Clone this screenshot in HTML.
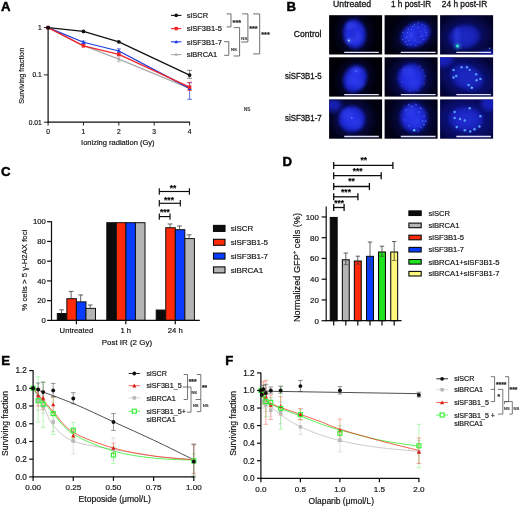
<!DOCTYPE html>
<html lang="en"><head><meta charset="utf-8"><title>Figure</title>
<style>html,body{margin:0;padding:0;background:#fff;}body{width:520px;height:507px;overflow:hidden;}svg{display:block;}text{font-family:"Liberation Sans", Arial, sans-serif;}</style>
</head><body>
<svg width="520" height="507" viewBox="0 0 520 507">
<defs>
<radialGradient id="cellg" cx="50%" cy="50%" r="50%"><stop offset="0" stop-color="#2834ea"/><stop offset="0.55" stop-color="#222ee0"/><stop offset="0.8" stop-color="#1a24c4"/><stop offset="1" stop-color="#0c1288"/></radialGradient>
<filter id="blur05" x="-100%" y="-100%" width="300%" height="300%"><feGaussianBlur stdDeviation="0.45"/></filter>
<filter id="blur1" x="-30%" y="-30%" width="160%" height="160%"><feGaussianBlur stdDeviation="1.5"/></filter>
<filter id="blur2" x="-50%" y="-50%" width="200%" height="200%"><feGaussianBlur stdDeviation="2.5"/></filter>
<filter id="blur5" x="-50%" y="-50%" width="200%" height="200%"><feGaussianBlur stdDeviation="5"/></filter>
</defs>
<rect width="520" height="507" fill="#fff"/>
<text x="1.00" y="10.90" font-size="13.2" text-anchor="start" font-weight="bold" fill="#000" stroke="#000" stroke-width="0.45">A</text>
<line x1="189.58" y1="82.82" x2="189.58" y2="99.29" stroke="#1b3be0" stroke-width="0.7"/>
<line x1="187.18" y1="82.82" x2="191.98" y2="82.82" stroke="#1b3be0" stroke-width="0.7"/>
<line x1="187.18" y1="99.29" x2="191.98" y2="99.29" stroke="#1b3be0" stroke-width="0.7"/>
<line x1="118.84" y1="48.87" x2="118.84" y2="53.03" stroke="#1b3be0" stroke-width="0.7"/>
<line x1="116.84" y1="48.87" x2="120.84" y2="48.87" stroke="#1b3be0" stroke-width="0.7"/>
<line x1="116.84" y1="53.03" x2="120.84" y2="53.03" stroke="#1b3be0" stroke-width="0.7"/>
<line x1="83.47" y1="41.03" x2="83.47" y2="43.55" stroke="#1b3be0" stroke-width="0.7"/>
<line x1="81.47" y1="41.03" x2="85.47" y2="41.03" stroke="#1b3be0" stroke-width="0.7"/>
<line x1="81.47" y1="43.55" x2="85.47" y2="43.55" stroke="#1b3be0" stroke-width="0.7"/>
<line x1="189.58" y1="82.23" x2="189.58" y2="90.41" stroke="#f0262a" stroke-width="0.7"/>
<line x1="187.18" y1="82.23" x2="191.98" y2="82.23" stroke="#f0262a" stroke-width="0.7"/>
<line x1="187.18" y1="90.41" x2="191.98" y2="90.41" stroke="#f0262a" stroke-width="0.7"/>
<line x1="118.84" y1="56.92" x2="118.84" y2="61.71" stroke="#aaa" stroke-width="0.7"/>
<line x1="116.84" y1="56.92" x2="120.84" y2="56.92" stroke="#aaa" stroke-width="0.7"/>
<line x1="116.84" y1="61.71" x2="120.84" y2="61.71" stroke="#aaa" stroke-width="0.7"/>
<line x1="189.58" y1="70.32" x2="189.58" y2="78.24" stroke="#555" stroke-width="0.7"/>
<line x1="187.18" y1="70.32" x2="191.98" y2="70.32" stroke="#555" stroke-width="0.7"/>
<line x1="187.18" y1="78.24" x2="191.98" y2="78.24" stroke="#555" stroke-width="0.7"/>
<polyline points="48.10,27.60 83.47,45.67 118.84,59.18 189.58,88.33" stroke="#aaa" stroke-width="1.25" fill="none" stroke-linejoin="round"/>
<rect x="46.90" y="26.40" width="2.40" height="2.40" fill="#aaa" stroke="none" stroke-width="0"/>
<rect x="82.27" y="44.47" width="2.40" height="2.40" fill="#aaa" stroke="none" stroke-width="0"/>
<rect x="117.64" y="57.98" width="2.40" height="2.40" fill="#aaa" stroke="none" stroke-width="0"/>
<rect x="188.38" y="87.13" width="2.40" height="2.40" fill="#aaa" stroke="none" stroke-width="0"/>
<polyline points="48.10,27.60 83.47,42.25 118.84,51.01 189.58,88.33" stroke="#1b3be0" stroke-width="1.25" fill="none" stroke-linejoin="round"/>
<polygon points="48.10,25.60 46.10,29.20 50.10,29.20" fill="#1b3be0"/>
<polygon points="83.47,40.25 81.47,43.85 85.47,43.85" fill="#1b3be0"/>
<polygon points="118.84,49.01 116.84,52.61 120.84,52.61" fill="#1b3be0"/>
<polygon points="189.58,86.33 187.58,89.93 191.58,89.93" fill="#1b3be0"/>
<polyline points="48.10,27.60 83.47,45.82 118.84,54.42 189.58,87.18" stroke="#f0262a" stroke-width="1.25" fill="none" stroke-linejoin="round"/>
<rect x="46.30" y="25.80" width="3.60" height="3.60" fill="#f0262a" stroke="none" stroke-width="0"/>
<rect x="81.67" y="44.02" width="3.60" height="3.60" fill="#f0262a" stroke="none" stroke-width="0"/>
<rect x="117.04" y="52.62" width="3.60" height="3.60" fill="#f0262a" stroke="none" stroke-width="0"/>
<rect x="187.78" y="85.38" width="3.60" height="3.60" fill="#f0262a" stroke="none" stroke-width="0"/>
<polyline points="48.10,27.60 83.47,31.43 118.84,41.84 189.58,75.11" stroke="#111" stroke-width="1.25" fill="none" stroke-linejoin="round"/>
<circle cx="48.10" cy="27.60" r="1.9" fill="#111" stroke="none" stroke-width="0"/>
<circle cx="83.47" cy="31.43" r="1.9" fill="#111" stroke="none" stroke-width="0"/>
<circle cx="118.84" cy="41.84" r="1.9" fill="#111" stroke="none" stroke-width="0"/>
<circle cx="189.58" cy="75.11" r="1.9" fill="#111" stroke="none" stroke-width="0"/>
<line x1="48.10" y1="27.10" x2="48.10" y2="122.70" stroke="#0c0c0c" stroke-width="1.2"/>
<line x1="47.60" y1="122.20" x2="190.08" y2="122.20" stroke="#0c0c0c" stroke-width="1.2"/>
<line x1="43.90" y1="27.60" x2="48.10" y2="27.60" stroke="#0c0c0c" stroke-width="0.9"/>
<text x="41.70" y="29.95" font-size="6.7" text-anchor="end" font-weight="normal" fill="#111" stroke="#111" stroke-width="0.18">1</text>
<line x1="43.90" y1="74.90" x2="48.10" y2="74.90" stroke="#0c0c0c" stroke-width="0.9"/>
<text x="41.70" y="77.25" font-size="6.7" text-anchor="end" font-weight="normal" fill="#111" stroke="#111" stroke-width="0.18">0.1</text>
<line x1="43.90" y1="122.20" x2="48.10" y2="122.20" stroke="#0c0c0c" stroke-width="0.9"/>
<text x="41.70" y="124.55" font-size="6.7" text-anchor="end" font-weight="normal" fill="#111" stroke="#111" stroke-width="0.18">0.01</text>
<line x1="48.10" y1="122.20" x2="48.10" y2="125.60" stroke="#0c0c0c" stroke-width="0.9"/>
<text x="48.10" y="133.50" font-size="6.7" text-anchor="middle" font-weight="normal" fill="#111" stroke="#111" stroke-width="0.18">0</text>
<line x1="83.47" y1="122.20" x2="83.47" y2="125.60" stroke="#0c0c0c" stroke-width="0.9"/>
<text x="83.47" y="133.50" font-size="6.7" text-anchor="middle" font-weight="normal" fill="#111" stroke="#111" stroke-width="0.18">1</text>
<line x1="118.84" y1="122.20" x2="118.84" y2="125.60" stroke="#0c0c0c" stroke-width="0.9"/>
<text x="118.84" y="133.50" font-size="6.7" text-anchor="middle" font-weight="normal" fill="#111" stroke="#111" stroke-width="0.18">2</text>
<line x1="154.21" y1="122.20" x2="154.21" y2="125.60" stroke="#0c0c0c" stroke-width="0.9"/>
<text x="154.21" y="133.50" font-size="6.7" text-anchor="middle" font-weight="normal" fill="#111" stroke="#111" stroke-width="0.18">3</text>
<line x1="189.58" y1="122.20" x2="189.58" y2="125.60" stroke="#0c0c0c" stroke-width="0.9"/>
<text x="189.58" y="133.50" font-size="6.7" text-anchor="middle" font-weight="normal" fill="#111" stroke="#111" stroke-width="0.18">4</text>
<text x="117.80" y="145.10" font-size="7.5" text-anchor="middle" font-weight="normal" fill="#111" stroke="#111" stroke-width="0.18">Ionizing radiation (Gy)</text>
<text x="24.20" y="75.80" font-size="7.3" text-anchor="middle" font-weight="normal" fill="#111" stroke="#111" stroke-width="0.18" transform="rotate(-90 24.2 75.8)">Surviving fraction</text>
<line x1="171.00" y1="15.40" x2="181.40" y2="15.40" stroke="#111" stroke-width="1.1"/>
<circle cx="176.20" cy="15.40" r="1.8" fill="#111" stroke="none" stroke-width="0"/>
<text x="186.80" y="18.10" font-size="7.5" text-anchor="start" font-weight="normal" fill="#111" stroke="#111" stroke-width="0.18">siSCR</text>
<line x1="171.00" y1="28.60" x2="181.40" y2="28.60" stroke="#f0262a" stroke-width="1.1"/>
<rect x="174.50" y="26.90" width="3.40" height="3.40" fill="#f0262a" stroke="none" stroke-width="0"/>
<text x="186.80" y="31.30" font-size="7.5" text-anchor="start" font-weight="normal" fill="#111" stroke="#111" stroke-width="0.18">siSF3B1-5</text>
<line x1="171.00" y1="41.80" x2="181.40" y2="41.80" stroke="#1b3be0" stroke-width="1.1"/>
<polygon points="176.20,39.90 174.30,43.32 178.10,43.32" fill="#1b3be0"/>
<text x="186.80" y="44.50" font-size="7.5" text-anchor="start" font-weight="normal" fill="#111" stroke="#111" stroke-width="0.18">siSF3B1-7</text>
<line x1="171.00" y1="54.60" x2="181.40" y2="54.60" stroke="#aaa" stroke-width="1.1"/>
<rect x="175.10" y="53.50" width="2.20" height="2.20" fill="#aaa" stroke="none" stroke-width="0"/>
<text x="186.80" y="57.30" font-size="7.5" text-anchor="start" font-weight="normal" fill="#111" stroke="#111" stroke-width="0.18">siBRCA1</text>
<polyline points="226.60,13.90 231.00,13.90 231.00,26.90 226.60,26.90" stroke="#4a4a4a" stroke-width="0.8" fill="none"/>
<text x="232.60" y="25.00" font-size="7.2" text-anchor="start" font-weight="bold" fill="#222" stroke="#222" stroke-width="0.18">***</text>
<polyline points="224.20,41.70 228.80,41.70 228.80,55.30 224.20,55.30" stroke="#4a4a4a" stroke-width="0.8" fill="none"/>
<text x="231.00" y="50.90" font-size="4.3" text-anchor="start" font-weight="normal" fill="#222" stroke="#222" stroke-width="0.18">NS</text>
<polyline points="233.70,27.60 239.60,27.60 239.60,56.00 233.70,56.00" stroke="#4a4a4a" stroke-width="0.8" fill="none"/>
<text x="241.30" y="40.30" font-size="4.3" text-anchor="start" font-weight="normal" fill="#222" stroke="#222" stroke-width="0.18">NS</text>
<polyline points="242.20,13.90 247.90,13.90 247.90,42.00 241.20,42.00" stroke="#4a4a4a" stroke-width="0.8" fill="none"/>
<text x="249.20" y="30.80" font-size="7.2" text-anchor="start" font-weight="bold" fill="#222" stroke="#222" stroke-width="0.18">***</text>
<polyline points="253.10,13.90 259.70,13.90 259.70,53.90 253.10,53.90" stroke="#4a4a4a" stroke-width="0.8" fill="none"/>
<text x="261.30" y="37.20" font-size="7.2" text-anchor="start" font-weight="bold" fill="#222" stroke="#222" stroke-width="0.18">***</text>
<text x="244.00" y="110.60" font-size="4.6" text-anchor="start" font-weight="normal" fill="#222" stroke="#222" stroke-width="0.18">NS</text>
<text x="286.40" y="11.20" font-size="13.2" text-anchor="start" font-weight="bold" fill="#000" stroke="#000" stroke-width="0.45">B</text>
<text x="352.10" y="7.30" font-size="8.5" text-anchor="middle" font-weight="normal" fill="#111" stroke="#111" stroke-width="0.28" textLength="38.0" lengthAdjust="spacingAndGlyphs">Untreated</text>
<text x="411.10" y="7.30" font-size="8.5" text-anchor="middle" font-weight="normal" fill="#111" stroke="#111" stroke-width="0.28" textLength="40.2" lengthAdjust="spacingAndGlyphs">1 h post-IR</text>
<text x="464.50" y="7.30" font-size="8.5" text-anchor="middle" font-weight="normal" fill="#111" stroke="#111" stroke-width="0.28" textLength="45.4" lengthAdjust="spacingAndGlyphs">24 h post-IR</text>
<text x="321.40" y="37.20" font-size="8.4" text-anchor="end" font-weight="normal" fill="#111" stroke="#111" stroke-width="0.28" textLength="27.6" lengthAdjust="spacingAndGlyphs">Control</text>
<text x="321.60" y="79.00" font-size="8.3" text-anchor="end" font-weight="normal" fill="#111" stroke="#111" stroke-width="0.28" textLength="36.6" lengthAdjust="spacingAndGlyphs">siSF3B1-5</text>
<text x="321.60" y="120.90" font-size="8.3" text-anchor="end" font-weight="normal" fill="#111" stroke="#111" stroke-width="0.28" textLength="36.6" lengthAdjust="spacingAndGlyphs">siSF3B1-7</text>
<clipPath id="clip00"><rect x="329.1" y="15.2" width="53.0" height="39.3"/></clipPath>
<rect x="329.10" y="15.20" width="53.00" height="39.30" fill="#010106" stroke="none" stroke-width="0"/>
<g clip-path="url(#clip00)">
<ellipse cx="354.4" cy="34.0" rx="17.1" ry="22.0" fill="#0c1290" opacity="0.3" filter="url(#blur5)" transform="rotate(-8 354.4 34.0)"/>
<ellipse cx="354.4" cy="34.0" rx="11.8" ry="15.2" fill="url(#cellg)" opacity="1" filter="url(#blur1)" transform="rotate(-8 354.4 34.0)"/>
<ellipse cx="351" cy="26" rx="5" ry="4" fill="#3a48f4" opacity="0.55" filter="url(#blur1)"/>
<ellipse cx="356" cy="38" rx="5" ry="6" fill="#3442f0" opacity="0.5" filter="url(#blur1)"/>
<ellipse cx="353" cy="33" rx="2" ry="7" fill="#1418a8" opacity="0.35" filter="url(#blur1)"/>
<ellipse cx="349" cy="40.5" rx="2.6" ry="2.6" fill="#4a70ff" opacity="0.7" filter="url(#blur1)"/>
<circle cx="348.8" cy="40.5" r="0.9" fill="#b4dcff" opacity="0.95" filter="url(#blur05)"/>
</g>
<line x1="344.20" y1="52.30" x2="378.80" y2="52.30" stroke="#e2e2ff" stroke-width="1.3"/>
<clipPath id="clip01"><rect x="384.6" y="15.2" width="53.0" height="39.3"/></clipPath>
<rect x="384.60" y="15.20" width="53.00" height="39.30" fill="#02020c" stroke="none" stroke-width="0"/>
<g clip-path="url(#clip01)">
<ellipse cx="415.6" cy="34.6" rx="23.5" ry="17.7" fill="#0c1290" opacity="0.32" filter="url(#blur5)" transform="rotate(-28 415.6 34.6)"/>
<ellipse cx="415.6" cy="34.6" rx="16.2" ry="12.2" fill="url(#cellg)" opacity="1" filter="url(#blur1)" transform="rotate(-28 415.6 34.6)"/>
<ellipse cx="419" cy="35" rx="3" ry="8" fill="#1418a8" opacity="0.3" filter="url(#blur1)"/>
<ellipse cx="409" cy="36" rx="5" ry="5" fill="#3442f0" opacity="0.35" filter="url(#blur1)"/>
<circle cx="415.1" cy="40.0" r="0.55" fill="#5a8cff" opacity="0.75" filter="url(#blur05)"/>
<circle cx="411.3" cy="33.2" r="0.55" fill="#5a9cf8" opacity="0.75" filter="url(#blur05)"/>
<circle cx="406.7" cy="37.5" r="0.55" fill="#5a8cff" opacity="0.75" filter="url(#blur05)"/>
<circle cx="426.0" cy="32.4" r="0.55" fill="#5a9cf8" opacity="0.75" filter="url(#blur05)"/>
<circle cx="421.0" cy="33.8" r="0.55" fill="#4a7cf8" opacity="0.75" filter="url(#blur05)"/>
<circle cx="407.1" cy="44.5" r="0.55" fill="#5a9cf8" opacity="0.75" filter="url(#blur05)"/>
<circle cx="403.0" cy="32.4" r="0.55" fill="#5a8cff" opacity="0.75" filter="url(#blur05)"/>
<circle cx="418.0" cy="27.6" r="0.55" fill="#6aa8f0" opacity="0.75" filter="url(#blur05)"/>
<circle cx="415.8" cy="45.3" r="0.55" fill="#5a8cff" opacity="0.75" filter="url(#blur05)"/>
<circle cx="423.7" cy="39.3" r="0.55" fill="#5a8cff" opacity="0.75" filter="url(#blur05)"/>
<circle cx="407.6" cy="32.6" r="0.55" fill="#5a8cff" opacity="0.75" filter="url(#blur05)"/>
<circle cx="410.7" cy="35.9" r="0.55" fill="#5a9cf8" opacity="0.75" filter="url(#blur05)"/>
<circle cx="409.1" cy="40.2" r="0.55" fill="#5a8cff" opacity="0.75" filter="url(#blur05)"/>
<circle cx="414.4" cy="24.9" r="0.55" fill="#6aa8f0" opacity="0.75" filter="url(#blur05)"/>
<circle cx="420.1" cy="42.1" r="0.55" fill="#5a8cff" opacity="0.75" filter="url(#blur05)"/>
<circle cx="402.6" cy="39.6" r="0.55" fill="#5a8cff" opacity="0.75" filter="url(#blur05)"/>
<circle cx="411.6" cy="29.5" r="0.55" fill="#5a9cf8" opacity="0.75" filter="url(#blur05)"/>
<circle cx="420.7" cy="31.2" r="0.55" fill="#4a7cf8" opacity="0.75" filter="url(#blur05)"/>
<circle cx="412.5" cy="26.5" r="0.55" fill="#5a9cf8" opacity="0.75" filter="url(#blur05)"/>
<circle cx="408.2" cy="29.1" r="0.55" fill="#6aa8f0" opacity="0.75" filter="url(#blur05)"/>
<circle cx="418.1" cy="22.8" r="0.55" fill="#6aa8f0" opacity="0.75" filter="url(#blur05)"/>
<circle cx="405.5" cy="41.7" r="0.55" fill="#6aa8f0" opacity="0.75" filter="url(#blur05)"/>
<circle cx="410.2" cy="44.4" r="0.55" fill="#4a7cf8" opacity="0.75" filter="url(#blur05)"/>
<circle cx="420.2" cy="36.7" r="0.55" fill="#5a8cff" opacity="0.75" filter="url(#blur05)"/>
<circle cx="422.6" cy="35.9" r="0.55" fill="#5a8cff" opacity="0.75" filter="url(#blur05)"/>
<circle cx="417.5" cy="42.0" r="0.55" fill="#4a7cf8" opacity="0.75" filter="url(#blur05)"/>
<circle cx="424.6" cy="30.1" r="0.55" fill="#4a7cf8" opacity="0.75" filter="url(#blur05)"/>
<circle cx="424.9" cy="26.5" r="0.55" fill="#4a7cf8" opacity="0.75" filter="url(#blur05)"/>
<circle cx="422.3" cy="24.3" r="0.55" fill="#4a7cf8" opacity="0.75" filter="url(#blur05)"/>
<circle cx="426.7" cy="35.0" r="0.55" fill="#6aa8f0" opacity="0.75" filter="url(#blur05)"/>
</g>
<line x1="400.80" y1="52.30" x2="435.60" y2="52.30" stroke="#e2e2ff" stroke-width="1.3"/>
<clipPath id="clip02"><rect x="440.1" y="15.2" width="53.0" height="39.3"/></clipPath>
<rect x="440.10" y="15.20" width="53.00" height="39.30" fill="#030324" stroke="none" stroke-width="0"/>
<g clip-path="url(#clip02)">
<ellipse cx="464.5" cy="36.6" rx="26.6" ry="19.8" fill="#0c1290" opacity="0.5" filter="url(#blur5)" transform="rotate(-8 464.5 36.6)"/>
<ellipse cx="492" cy="57" rx="14" ry="7" fill="#1a28d8" opacity="0.8" filter="url(#blur2)"/>
<ellipse cx="464.5" cy="36.6" rx="16.6" ry="12.4" fill="url(#cellg)" opacity="0.72" filter="url(#blur1)" transform="rotate(-8 464.5 36.6)"/>
<ellipse cx="457" cy="35" rx="3" ry="8" fill="#3442f0" opacity="0.5" filter="url(#blur1)"/>
<ellipse cx="457.5" cy="46" rx="3.2" ry="3.2" fill="#30a0e0" opacity="0.6" filter="url(#blur1)"/>
<circle cx="457.5" cy="46.0" r="1.5" fill="#35e8c8" opacity="0.95" filter="url(#blur05)"/>
<circle cx="489.6" cy="48.4" r="0.8" fill="#6fa0ff" opacity="0.75" filter="url(#blur05)"/>
</g>
<line x1="456.30" y1="52.30" x2="490.90" y2="52.30" stroke="#e2e2ff" stroke-width="1.3"/>
<clipPath id="clip10"><rect x="329.1" y="57.3" width="53.0" height="39.3"/></clipPath>
<rect x="329.10" y="57.30" width="53.00" height="39.30" fill="#010106" stroke="none" stroke-width="0"/>
<g clip-path="url(#clip10)">
<ellipse cx="355.0" cy="78.8" rx="17.1" ry="20.9" fill="#0c1290" opacity="0.3" filter="url(#blur5)" transform="rotate(25 355.0 78.8)"/>
<ellipse cx="355.0" cy="78.8" rx="11.8" ry="14.4" fill="url(#cellg)" opacity="1" filter="url(#blur1)" transform="rotate(25 355.0 78.8)"/>
<ellipse cx="356" cy="71" rx="5" ry="3" fill="#3a4af4" opacity="0.6" filter="url(#blur1)"/>
<ellipse cx="352" cy="80" rx="5" ry="5" fill="#3442f0" opacity="0.4" filter="url(#blur1)"/>
<ellipse cx="359" cy="84" rx="5" ry="4" fill="#3442f0" opacity="0.4" filter="url(#blur1)"/>
<circle cx="356" cy="71" r="1.0" fill="#4a6cff" opacity="0.95" filter="url(#blur05)"/>
</g>
<line x1="344.20" y1="94.70" x2="378.80" y2="94.70" stroke="#e2e2ff" stroke-width="1.3"/>
<clipPath id="clip11"><rect x="384.6" y="57.3" width="53.0" height="39.3"/></clipPath>
<rect x="384.60" y="57.30" width="53.00" height="39.30" fill="#020216" stroke="none" stroke-width="0"/>
<g clip-path="url(#clip11)">
<ellipse cx="411.5" cy="78.0" rx="21.6" ry="22.8" fill="#0c1290" opacity="0.42" filter="url(#blur5)" transform="rotate(0 411.5 78.0)"/>
<ellipse cx="411.5" cy="78.0" rx="14.4" ry="15.2" fill="url(#cellg)" opacity="1" filter="url(#blur1)" transform="rotate(0 411.5 78.0)"/>
<ellipse cx="408" cy="72" rx="6" ry="5" fill="#3442f0" opacity="0.45" filter="url(#blur1)"/>
<ellipse cx="414" cy="84" rx="6" ry="5" fill="#3040ec" opacity="0.4" filter="url(#blur1)"/>
<circle cx="423" cy="70" r="0.6" fill="#5a8cff" opacity="0.75" filter="url(#blur05)"/>
<circle cx="425" cy="76" r="0.6" fill="#5a8cff" opacity="0.75" filter="url(#blur05)"/>
<circle cx="424" cy="83" r="0.6" fill="#5a8cff" opacity="0.75" filter="url(#blur05)"/>
<circle cx="420" cy="66" r="0.6" fill="#5a8cff" opacity="0.75" filter="url(#blur05)"/>
<circle cx="404" cy="70" r="0.6" fill="#5a8cff" opacity="0.75" filter="url(#blur05)"/>
<circle cx="402" cy="82" r="0.6" fill="#5a8cff" opacity="0.75" filter="url(#blur05)"/>
<circle cx="410" cy="90" r="0.6" fill="#5a8cff" opacity="0.75" filter="url(#blur05)"/>
<circle cx="418" cy="90" r="0.6" fill="#5a8cff" opacity="0.75" filter="url(#blur05)"/>
</g>
<line x1="400.80" y1="94.70" x2="435.60" y2="94.70" stroke="#e2e2ff" stroke-width="1.3"/>
<clipPath id="clip12"><rect x="440.1" y="57.3" width="53.0" height="39.3"/></clipPath>
<rect x="440.10" y="57.30" width="53.00" height="39.30" fill="#040430" stroke="none" stroke-width="0"/>
<g clip-path="url(#clip12)">
<ellipse cx="467.0" cy="77.5" rx="29.1" ry="20.8" fill="#0c1290" opacity="0.6" filter="url(#blur5)" transform="rotate(22 467.0 77.5)"/>
<ellipse cx="441" cy="59" rx="12" ry="8" fill="#1a28d8" opacity="0.8" filter="url(#blur2)"/>
<ellipse cx="467.0" cy="77.5" rx="18.2" ry="13.0" fill="url(#cellg)" opacity="0.7" filter="url(#blur1)" transform="rotate(22 467.0 77.5)"/>
<circle cx="453.5" cy="70" r="1.25" fill="#5aa4ff" opacity="0.95" filter="url(#blur05)"/>
<circle cx="461.6" cy="67.3" r="1.25" fill="#5aa4ff" opacity="0.95" filter="url(#blur05)"/>
<circle cx="467" cy="67.3" r="1.25" fill="#5aa4ff" opacity="0.95" filter="url(#blur05)"/>
<circle cx="469.7" cy="70" r="1.1" fill="#5aa4ff" opacity="0.95" filter="url(#blur05)"/>
<circle cx="476.1" cy="74.3" r="1.25" fill="#5aa4ff" opacity="0.95" filter="url(#blur05)"/>
<circle cx="456.2" cy="75.9" r="1.25" fill="#5aa4ff" opacity="0.95" filter="url(#blur05)"/>
<circle cx="453.5" cy="77.5" r="1.25" fill="#5aa4ff" opacity="0.95" filter="url(#blur05)"/>
<circle cx="476.7" cy="80.2" r="1.25" fill="#5aa4ff" opacity="0.95" filter="url(#blur05)"/>
<circle cx="480.4" cy="79.1" r="1.25" fill="#5aa4ff" opacity="0.95" filter="url(#blur05)"/>
<circle cx="468.6" cy="85.1" r="1.25" fill="#5aa4ff" opacity="0.95" filter="url(#blur05)"/>
<circle cx="471.8" cy="87.8" r="1.3" fill="#6ab4ff" opacity="0.95" filter="url(#blur05)"/>
</g>
<line x1="456.30" y1="94.70" x2="490.90" y2="94.70" stroke="#e2e2ff" stroke-width="1.3"/>
<clipPath id="clip20"><rect x="329.1" y="99.4" width="53.0" height="39.3"/></clipPath>
<rect x="329.10" y="99.40" width="53.00" height="39.30" fill="#02020e" stroke="none" stroke-width="0"/>
<g clip-path="url(#clip20)">
<ellipse cx="351.8" cy="119.0" rx="20.7" ry="20.1" fill="#0c1290" opacity="0.42" filter="url(#blur5)" transform="rotate(0 351.8 119.0)"/>
<ellipse cx="333" cy="105" rx="9" ry="7" fill="#1a28d8" opacity="0.8" filter="url(#blur2)"/>
<ellipse cx="351.8" cy="119.0" rx="13.8" ry="13.4" fill="url(#cellg)" opacity="1" filter="url(#blur1)" transform="rotate(0 351.8 119.0)"/>
<ellipse cx="347" cy="114" rx="6" ry="6" fill="#3442f0" opacity="0.4" filter="url(#blur1)"/>
<ellipse cx="357" cy="124" rx="5" ry="5" fill="#3040ec" opacity="0.35" filter="url(#blur1)"/>
<circle cx="351.8" cy="118.1" r="0.9" fill="#6080ff" opacity="0.95" filter="url(#blur05)"/>
</g>
<line x1="344.20" y1="136.50" x2="378.80" y2="136.50" stroke="#e2e2ff" stroke-width="1.3"/>
<clipPath id="clip21"><rect x="384.6" y="99.4" width="53.0" height="39.3"/></clipPath>
<rect x="384.60" y="99.40" width="53.00" height="39.30" fill="#020214" stroke="none" stroke-width="0"/>
<g clip-path="url(#clip21)">
<ellipse cx="413.7" cy="117.7" rx="21.3" ry="22.8" fill="#0c1290" opacity="0.38" filter="url(#blur5)" transform="rotate(-15 413.7 117.7)"/>
<ellipse cx="413.7" cy="117.7" rx="14.2" ry="15.2" fill="url(#cellg)" opacity="1" filter="url(#blur1)" transform="rotate(-15 413.7 117.7)"/>
<ellipse cx="410" cy="112" rx="5" ry="5" fill="#3442f0" opacity="0.4" filter="url(#blur1)"/>
<ellipse cx="416" cy="122" rx="5" ry="6" fill="#3040ec" opacity="0.35" filter="url(#blur1)"/>
<circle cx="408.8" cy="105" r="0.8" fill="#5a8cff" opacity="0.75" filter="url(#blur05)"/>
<circle cx="412" cy="106.6" r="0.8" fill="#5a8cff" opacity="0.75" filter="url(#blur05)"/>
<circle cx="420.7" cy="108.2" r="0.8" fill="#5a8cff" opacity="0.75" filter="url(#blur05)"/>
<circle cx="422.8" cy="121.1" r="0.8" fill="#5a8cff" opacity="0.75" filter="url(#blur05)"/>
<circle cx="425.5" cy="121.1" r="0.8" fill="#5a8cff" opacity="0.75" filter="url(#blur05)"/>
<circle cx="423.9" cy="124.4" r="0.8" fill="#5a8cff" opacity="0.75" filter="url(#blur05)"/>
<circle cx="414.2" cy="130.3" r="1.2" fill="#58c8ff" opacity="0.95" filter="url(#blur05)"/>
<circle cx="406" cy="110" r="0.7" fill="#5a8cff" opacity="0.75" filter="url(#blur05)"/>
<circle cx="416" cy="104.5" r="0.7" fill="#5a8cff" opacity="0.75" filter="url(#blur05)"/>
<circle cx="419" cy="112" r="0.7" fill="#5a8cff" opacity="0.75" filter="url(#blur05)"/>
<circle cx="424" cy="116" r="0.7" fill="#5a8cff" opacity="0.75" filter="url(#blur05)"/>
<circle cx="421" cy="127" r="0.7" fill="#5a8cff" opacity="0.75" filter="url(#blur05)"/>
<circle cx="409" cy="126" r="0.7" fill="#5a8cff" opacity="0.75" filter="url(#blur05)"/>
<circle cx="405" cy="120" r="0.7" fill="#5a8cff" opacity="0.75" filter="url(#blur05)"/>
<circle cx="418" cy="131" r="0.7" fill="#5a8cff" opacity="0.75" filter="url(#blur05)"/>
</g>
<line x1="400.80" y1="136.50" x2="435.60" y2="136.50" stroke="#e2e2ff" stroke-width="1.3"/>
<clipPath id="clip22"><rect x="440.1" y="99.4" width="53.0" height="39.3"/></clipPath>
<rect x="440.10" y="99.40" width="53.00" height="39.30" fill="#05053c" stroke="none" stroke-width="0"/>
<g clip-path="url(#clip22)">
<ellipse cx="466.0" cy="119.3" rx="29.8" ry="21.4" fill="#0c1290" opacity="0.62" filter="url(#blur5)" transform="rotate(5 466.0 119.3)"/>
<ellipse cx="490" cy="103" rx="9" ry="8" fill="#1a28d8" opacity="0.8" filter="url(#blur2)"/>
<ellipse cx="466.0" cy="119.3" rx="18.6" ry="13.4" fill="url(#cellg)" opacity="0.78" filter="url(#blur1)" transform="rotate(5 466.0 119.3)"/>
<circle cx="469.7" cy="108.2" r="1.25" fill="#5aa4ff" opacity="0.95" filter="url(#blur05)"/>
<circle cx="454.6" cy="112" r="1.25" fill="#5aa4ff" opacity="0.95" filter="url(#blur05)"/>
<circle cx="454.6" cy="117.9" r="1.25" fill="#5aa4ff" opacity="0.95" filter="url(#blur05)"/>
<circle cx="460" cy="119" r="1.25" fill="#5aa4ff" opacity="0.95" filter="url(#blur05)"/>
<circle cx="464.8" cy="120.6" r="1.25" fill="#5aa4ff" opacity="0.95" filter="url(#blur05)"/>
<circle cx="480.4" cy="116.3" r="1.25" fill="#5aa4ff" opacity="0.95" filter="url(#blur05)"/>
<circle cx="479.4" cy="126.5" r="1.25" fill="#5aa4ff" opacity="0.95" filter="url(#blur05)"/>
<circle cx="474.5" cy="129.2" r="1.25" fill="#5aa4ff" opacity="0.95" filter="url(#blur05)"/>
<circle cx="470.2" cy="131.4" r="1.25" fill="#5aa4ff" opacity="0.95" filter="url(#blur05)"/>
<circle cx="464.8" cy="130.3" r="1.25" fill="#5aa4ff" opacity="0.95" filter="url(#blur05)"/>
<circle cx="456.8" cy="127.1" r="1.25" fill="#5aa4ff" opacity="0.95" filter="url(#blur05)"/>
</g>
<line x1="456.30" y1="136.50" x2="490.90" y2="136.50" stroke="#e2e2ff" stroke-width="1.3"/>
<text x="1.00" y="176.00" font-size="13.2" text-anchor="start" font-weight="bold" fill="#000" stroke="#000" stroke-width="0.45">C</text>
<line x1="61.57" y1="313.00" x2="61.57" y2="309.84" stroke="#3c3c3c" stroke-width="0.8"/>
<line x1="59.17" y1="309.84" x2="63.97" y2="309.84" stroke="#3c3c3c" stroke-width="0.8"/>
<rect x="57.30" y="313.50" width="9.55" height="6.90" fill="#0c0c0c" stroke="#111" stroke-width="1.0"/>
<line x1="71.12" y1="298.19" x2="71.12" y2="291.38" stroke="#3c3c3c" stroke-width="0.8"/>
<line x1="68.72" y1="291.38" x2="73.53" y2="291.38" stroke="#3c3c3c" stroke-width="0.8"/>
<rect x="66.85" y="298.69" width="9.55" height="21.71" fill="#ff2a0a" stroke="#111" stroke-width="1.0"/>
<line x1="80.68" y1="301.35" x2="80.68" y2="294.94" stroke="#3c3c3c" stroke-width="0.8"/>
<line x1="78.28" y1="294.94" x2="83.08" y2="294.94" stroke="#3c3c3c" stroke-width="0.8"/>
<rect x="76.40" y="301.85" width="9.55" height="18.55" fill="#0a3cff" stroke="#111" stroke-width="1.0"/>
<line x1="90.23" y1="307.87" x2="90.23" y2="305.00" stroke="#3c3c3c" stroke-width="0.8"/>
<line x1="87.83" y1="305.00" x2="92.63" y2="305.00" stroke="#3c3c3c" stroke-width="0.8"/>
<rect x="85.95" y="308.37" width="9.55" height="12.03" fill="#b4b4b4" stroke="#111" stroke-width="1.0"/>
<rect x="106.80" y="222.69" width="9.55" height="97.71" fill="#0c0c0c" stroke="#111" stroke-width="1.0"/>
<rect x="116.35" y="222.69" width="9.55" height="97.71" fill="#ff2a0a" stroke="#111" stroke-width="1.0"/>
<rect x="125.90" y="222.69" width="9.55" height="97.71" fill="#0a3cff" stroke="#111" stroke-width="1.0"/>
<rect x="135.45" y="222.69" width="9.55" height="97.71" fill="#b4b4b4" stroke="#111" stroke-width="1.0"/>
<rect x="156.20" y="310.04" width="9.55" height="10.36" fill="#0c0c0c" stroke="#111" stroke-width="1.0"/>
<line x1="170.03" y1="227.23" x2="170.03" y2="223.97" stroke="#3c3c3c" stroke-width="0.8"/>
<line x1="167.62" y1="223.97" x2="172.43" y2="223.97" stroke="#3c3c3c" stroke-width="0.8"/>
<rect x="165.75" y="227.73" width="9.55" height="92.67" fill="#ff2a0a" stroke="#111" stroke-width="1.0"/>
<line x1="179.57" y1="229.20" x2="179.57" y2="225.94" stroke="#3c3c3c" stroke-width="0.8"/>
<line x1="177.17" y1="225.94" x2="181.97" y2="225.94" stroke="#3c3c3c" stroke-width="0.8"/>
<rect x="175.30" y="229.70" width="9.55" height="90.70" fill="#0a3cff" stroke="#111" stroke-width="1.0"/>
<line x1="189.12" y1="238.08" x2="189.12" y2="234.83" stroke="#3c3c3c" stroke-width="0.8"/>
<line x1="186.72" y1="234.83" x2="191.53" y2="234.83" stroke="#3c3c3c" stroke-width="0.8"/>
<rect x="184.85" y="238.58" width="9.55" height="81.82" fill="#b4b4b4" stroke="#111" stroke-width="1.0"/>
<line x1="51.50" y1="221.25" x2="51.50" y2="320.85" stroke="#0c0c0c" stroke-width="1.2"/>
<line x1="51.05" y1="320.40" x2="199.80" y2="320.40" stroke="#0c0c0c" stroke-width="1.2"/>
<line x1="47.10" y1="320.40" x2="51.50" y2="320.40" stroke="#0c0c0c" stroke-width="1.2"/>
<text x="45.80" y="323.15" font-size="7.7" text-anchor="end" font-weight="normal" fill="#111" stroke="#111" stroke-width="0.18">0</text>
<line x1="47.10" y1="300.66" x2="51.50" y2="300.66" stroke="#0c0c0c" stroke-width="1.2"/>
<text x="45.80" y="303.41" font-size="7.7" text-anchor="end" font-weight="normal" fill="#111" stroke="#111" stroke-width="0.18">20</text>
<line x1="47.10" y1="280.92" x2="51.50" y2="280.92" stroke="#0c0c0c" stroke-width="1.2"/>
<text x="45.80" y="283.67" font-size="7.7" text-anchor="end" font-weight="normal" fill="#111" stroke="#111" stroke-width="0.18">40</text>
<line x1="47.10" y1="261.18" x2="51.50" y2="261.18" stroke="#0c0c0c" stroke-width="1.2"/>
<text x="45.80" y="263.93" font-size="7.7" text-anchor="end" font-weight="normal" fill="#111" stroke="#111" stroke-width="0.18">60</text>
<line x1="47.10" y1="241.44" x2="51.50" y2="241.44" stroke="#0c0c0c" stroke-width="1.2"/>
<text x="45.80" y="244.19" font-size="7.7" text-anchor="end" font-weight="normal" fill="#111" stroke="#111" stroke-width="0.18">80</text>
<line x1="47.10" y1="221.70" x2="51.50" y2="221.70" stroke="#0c0c0c" stroke-width="1.2"/>
<text x="45.80" y="224.45" font-size="7.7" text-anchor="end" font-weight="normal" fill="#111" stroke="#111" stroke-width="0.18">100</text>
<line x1="76.40" y1="320.40" x2="76.40" y2="324.30" stroke="#0c0c0c" stroke-width="1.2"/>
<text x="76.40" y="333.30" font-size="7.65" text-anchor="middle" font-weight="normal" fill="#111" stroke="#111" stroke-width="0.18">Untreated</text>
<line x1="125.80" y1="320.40" x2="125.80" y2="324.30" stroke="#0c0c0c" stroke-width="1.2"/>
<text x="125.80" y="333.30" font-size="7.65" text-anchor="middle" font-weight="normal" fill="#111" stroke="#111" stroke-width="0.18">1 h</text>
<line x1="175.30" y1="320.40" x2="175.30" y2="324.30" stroke="#0c0c0c" stroke-width="1.2"/>
<text x="175.30" y="333.30" font-size="7.65" text-anchor="middle" font-weight="normal" fill="#111" stroke="#111" stroke-width="0.18">24 h</text>
<text x="126.90" y="345.40" font-size="7.95" text-anchor="middle" font-weight="normal" fill="#111" stroke="#111" stroke-width="0.18">Post IR (2 Gy)</text>
<text x="26.80" y="270.20" font-size="7.77" text-anchor="middle" font-weight="normal" fill="#111" stroke="#111" stroke-width="0.18" transform="rotate(-90 26.8 270.2)">% cells &gt; 5 γ-H2AX foci</text>
<line x1="159.30" y1="191.50" x2="189.40" y2="191.50" stroke="#0c0c0c" stroke-width="1.15"/>
<line x1="159.30" y1="188.30" x2="159.30" y2="194.70" stroke="#0c0c0c" stroke-width="1.15"/>
<line x1="189.40" y1="188.30" x2="189.40" y2="194.70" stroke="#0c0c0c" stroke-width="1.15"/>
<text x="172.90" y="191.00" font-size="8.4" text-anchor="middle" font-weight="bold" fill="#000" stroke="#000" stroke-width="0.18">**</text>
<line x1="159.30" y1="203.30" x2="180.30" y2="203.30" stroke="#0c0c0c" stroke-width="1.15"/>
<line x1="159.30" y1="200.10" x2="159.30" y2="206.50" stroke="#0c0c0c" stroke-width="1.15"/>
<line x1="180.30" y1="200.10" x2="180.30" y2="206.50" stroke="#0c0c0c" stroke-width="1.15"/>
<text x="169.00" y="203.40" font-size="8.4" text-anchor="middle" font-weight="bold" fill="#000" stroke="#000" stroke-width="0.18">***</text>
<line x1="159.30" y1="216.60" x2="170.00" y2="216.60" stroke="#0c0c0c" stroke-width="1.15"/>
<line x1="159.30" y1="213.40" x2="159.30" y2="219.80" stroke="#0c0c0c" stroke-width="1.15"/>
<line x1="170.00" y1="213.40" x2="170.00" y2="219.80" stroke="#0c0c0c" stroke-width="1.15"/>
<text x="164.80" y="214.90" font-size="8.4" text-anchor="middle" font-weight="bold" fill="#000" stroke="#000" stroke-width="0.18">***</text>
<rect x="213.50" y="225.40" width="11.50" height="6.00" fill="#0c0c0c" stroke="#0a0a0a" stroke-width="1.1"/>
<text x="230.70" y="231.20" font-size="8.0" text-anchor="start" font-weight="normal" fill="#111" stroke="#111" stroke-width="0.18">siSCR</text>
<rect x="213.50" y="239.30" width="11.50" height="6.00" fill="#ff2a0a" stroke="#0a0a0a" stroke-width="1.1"/>
<text x="230.70" y="245.10" font-size="8.0" text-anchor="start" font-weight="normal" fill="#111" stroke="#111" stroke-width="0.18">siSF3B1-5</text>
<rect x="213.50" y="253.10" width="11.50" height="6.00" fill="#0a3cff" stroke="#0a0a0a" stroke-width="1.1"/>
<text x="230.70" y="258.90" font-size="8.0" text-anchor="start" font-weight="normal" fill="#111" stroke="#111" stroke-width="0.18">siSF3B1-7</text>
<rect x="213.50" y="266.90" width="11.50" height="6.00" fill="#b4b4b4" stroke="#0a0a0a" stroke-width="1.1"/>
<text x="230.70" y="272.70" font-size="8.0" text-anchor="start" font-weight="normal" fill="#111" stroke="#111" stroke-width="0.18">siBRCA1</text>
<text x="282.60" y="166.40" font-size="13.2" text-anchor="start" font-weight="bold" fill="#000" stroke="#000" stroke-width="0.45">D</text>
<rect x="330.25" y="217.45" width="6.90" height="103.25" fill="#0c0c0c" stroke="#0a0a0a" stroke-width="1.05"/>
<rect x="342.35" y="259.78" width="6.90" height="60.92" fill="#b4b4b4" stroke="#0a0a0a" stroke-width="1.05"/>
<line x1="345.80" y1="253.05" x2="345.80" y2="264.67" stroke="#3c3c3c" stroke-width="0.8"/>
<line x1="343.60" y1="253.05" x2="348.00" y2="253.05" stroke="#3c3c3c" stroke-width="0.8"/>
<line x1="343.60" y1="264.67" x2="348.00" y2="264.67" stroke="#3c3c3c" stroke-width="0.6"/>
<rect x="354.35" y="261.02" width="6.90" height="59.68" fill="#ff2a0a" stroke="#0a0a0a" stroke-width="1.05"/>
<line x1="357.80" y1="256.17" x2="357.80" y2="264.16" stroke="#3c3c3c" stroke-width="0.8"/>
<line x1="355.60" y1="256.17" x2="360.00" y2="256.17" stroke="#3c3c3c" stroke-width="0.8"/>
<line x1="355.60" y1="264.16" x2="360.00" y2="264.16" stroke="#3c3c3c" stroke-width="0.6"/>
<rect x="366.55" y="256.36" width="6.90" height="64.34" fill="#0a3cff" stroke="#0a0a0a" stroke-width="1.05"/>
<line x1="370.00" y1="242.06" x2="370.00" y2="268.82" stroke="#3c3c3c" stroke-width="0.8"/>
<line x1="367.80" y1="242.06" x2="372.20" y2="242.06" stroke="#3c3c3c" stroke-width="0.8"/>
<line x1="367.80" y1="268.82" x2="372.20" y2="268.82" stroke="#3c3c3c" stroke-width="0.6"/>
<rect x="378.55" y="252.00" width="6.90" height="68.70" fill="#1ee61e" stroke="#0a0a0a" stroke-width="1.05"/>
<line x1="382.00" y1="246.21" x2="382.00" y2="256.38" stroke="#3c3c3c" stroke-width="0.8"/>
<line x1="379.80" y1="246.21" x2="384.20" y2="246.21" stroke="#3c3c3c" stroke-width="0.8"/>
<line x1="379.80" y1="256.38" x2="384.20" y2="256.38" stroke="#3c3c3c" stroke-width="0.6"/>
<rect x="390.75" y="252.00" width="6.90" height="68.70" fill="#fff87a" stroke="#0a0a0a" stroke-width="1.05"/>
<line x1="394.20" y1="241.54" x2="394.20" y2="260.52" stroke="#3c3c3c" stroke-width="0.8"/>
<line x1="392.00" y1="241.54" x2="396.40" y2="241.54" stroke="#3c3c3c" stroke-width="0.8"/>
<line x1="392.00" y1="260.52" x2="396.40" y2="260.52" stroke="#3c3c3c" stroke-width="0.6"/>
<line x1="326.20" y1="206.40" x2="326.20" y2="321.15" stroke="#0c0c0c" stroke-width="1.2"/>
<line x1="325.75" y1="320.70" x2="401.60" y2="320.70" stroke="#0c0c0c" stroke-width="1.2"/>
<line x1="321.60" y1="320.70" x2="326.20" y2="320.70" stroke="#0c0c0c" stroke-width="1.2"/>
<text x="318.80" y="323.55" font-size="7.9" text-anchor="end" font-weight="normal" fill="#111" stroke="#111" stroke-width="0.18">0</text>
<line x1="321.60" y1="299.95" x2="326.20" y2="299.95" stroke="#0c0c0c" stroke-width="1.2"/>
<text x="318.80" y="302.80" font-size="7.9" text-anchor="end" font-weight="normal" fill="#111" stroke="#111" stroke-width="0.18">20</text>
<line x1="321.60" y1="279.20" x2="326.20" y2="279.20" stroke="#0c0c0c" stroke-width="1.2"/>
<text x="318.80" y="282.05" font-size="7.9" text-anchor="end" font-weight="normal" fill="#111" stroke="#111" stroke-width="0.18">40</text>
<line x1="321.60" y1="258.45" x2="326.20" y2="258.45" stroke="#0c0c0c" stroke-width="1.2"/>
<text x="318.80" y="261.30" font-size="7.9" text-anchor="end" font-weight="normal" fill="#111" stroke="#111" stroke-width="0.18">60</text>
<line x1="321.60" y1="237.70" x2="326.20" y2="237.70" stroke="#0c0c0c" stroke-width="1.2"/>
<text x="318.80" y="240.55" font-size="7.9" text-anchor="end" font-weight="normal" fill="#111" stroke="#111" stroke-width="0.18">80</text>
<line x1="321.60" y1="216.95" x2="326.20" y2="216.95" stroke="#0c0c0c" stroke-width="1.2"/>
<text x="318.80" y="219.80" font-size="7.9" text-anchor="end" font-weight="normal" fill="#111" stroke="#111" stroke-width="0.18">100</text>
<line x1="333.70" y1="320.70" x2="333.70" y2="325.60" stroke="#0c0c0c" stroke-width="1.2"/>
<line x1="345.80" y1="320.70" x2="345.80" y2="325.60" stroke="#0c0c0c" stroke-width="1.2"/>
<line x1="357.80" y1="320.70" x2="357.80" y2="325.60" stroke="#0c0c0c" stroke-width="1.2"/>
<line x1="370.00" y1="320.70" x2="370.00" y2="325.60" stroke="#0c0c0c" stroke-width="1.2"/>
<line x1="382.00" y1="320.70" x2="382.00" y2="325.60" stroke="#0c0c0c" stroke-width="1.2"/>
<line x1="394.20" y1="320.70" x2="394.20" y2="325.60" stroke="#0c0c0c" stroke-width="1.2"/>
<text x="299.5" y="267.5" font-size="9.2" text-anchor="middle" fill="#111" stroke="#111" stroke-width="0.18" transform="rotate(-90 299.5 267.5)">Normalized GFP<tspan font-size="6" dy="-3.6">+</tspan><tspan dy="3.6"> cells (%)</tspan></text>
<line x1="333.70" y1="165.40" x2="392.90" y2="165.40" stroke="#0c0c0c" stroke-width="1.3"/>
<line x1="333.70" y1="161.90" x2="333.70" y2="168.90" stroke="#0c0c0c" stroke-width="1.3"/>
<line x1="392.90" y1="161.90" x2="392.90" y2="168.90" stroke="#0c0c0c" stroke-width="1.3"/>
<text x="363.70" y="163.30" font-size="8.4" text-anchor="middle" font-weight="bold" fill="#000" stroke="#000" stroke-width="0.18">**</text>
<line x1="333.70" y1="175.70" x2="381.20" y2="175.70" stroke="#0c0c0c" stroke-width="1.3"/>
<line x1="333.70" y1="172.20" x2="333.70" y2="179.20" stroke="#0c0c0c" stroke-width="1.3"/>
<line x1="381.20" y1="172.20" x2="381.20" y2="179.20" stroke="#0c0c0c" stroke-width="1.3"/>
<text x="357.60" y="174.20" font-size="8.4" text-anchor="middle" font-weight="bold" fill="#000" stroke="#000" stroke-width="0.18">***</text>
<line x1="333.70" y1="186.50" x2="369.40" y2="186.50" stroke="#0c0c0c" stroke-width="1.3"/>
<line x1="333.70" y1="183.00" x2="333.70" y2="190.00" stroke="#0c0c0c" stroke-width="1.3"/>
<line x1="369.40" y1="183.00" x2="369.40" y2="190.00" stroke="#0c0c0c" stroke-width="1.3"/>
<text x="351.60" y="184.10" font-size="8.4" text-anchor="middle" font-weight="bold" fill="#000" stroke="#000" stroke-width="0.18">**</text>
<line x1="333.70" y1="196.80" x2="357.90" y2="196.80" stroke="#0c0c0c" stroke-width="1.3"/>
<line x1="333.70" y1="193.30" x2="333.70" y2="200.30" stroke="#0c0c0c" stroke-width="1.3"/>
<line x1="357.90" y1="193.30" x2="357.90" y2="200.30" stroke="#0c0c0c" stroke-width="1.3"/>
<text x="346.00" y="195.40" font-size="8.4" text-anchor="middle" font-weight="bold" fill="#000" stroke="#000" stroke-width="0.18">***</text>
<line x1="333.70" y1="207.50" x2="344.10" y2="207.50" stroke="#0c0c0c" stroke-width="1.3"/>
<line x1="333.70" y1="204.00" x2="333.70" y2="211.00" stroke="#0c0c0c" stroke-width="1.3"/>
<line x1="344.10" y1="204.00" x2="344.10" y2="211.00" stroke="#0c0c0c" stroke-width="1.3"/>
<text x="339.20" y="205.70" font-size="8.4" text-anchor="middle" font-weight="bold" fill="#000" stroke="#000" stroke-width="0.18">***</text>
<rect x="408.90" y="210.90" width="12.30" height="4.60" fill="#0c0c0c" stroke="#0a0a0a" stroke-width="1.1"/>
<text x="428.40" y="215.90" font-size="7.65" text-anchor="start" font-weight="normal" fill="#111" stroke="#111" stroke-width="0.18">siSCR</text>
<rect x="408.90" y="223.10" width="12.30" height="4.60" fill="#b4b4b4" stroke="#0a0a0a" stroke-width="1.1"/>
<text x="428.40" y="228.10" font-size="7.65" text-anchor="start" font-weight="normal" fill="#111" stroke="#111" stroke-width="0.18">siBRCA1</text>
<rect x="408.90" y="235.20" width="12.30" height="4.60" fill="#ff2a0a" stroke="#0a0a0a" stroke-width="1.1"/>
<text x="428.40" y="240.20" font-size="7.65" text-anchor="start" font-weight="normal" fill="#111" stroke="#111" stroke-width="0.18">siSF3B1-5</text>
<rect x="408.90" y="247.40" width="12.30" height="4.60" fill="#0a3cff" stroke="#0a0a0a" stroke-width="1.1"/>
<text x="428.40" y="252.40" font-size="7.65" text-anchor="start" font-weight="normal" fill="#111" stroke="#111" stroke-width="0.18">siSF3B1-7</text>
<rect x="408.90" y="259.50" width="12.30" height="4.60" fill="#1ee61e" stroke="#0a0a0a" stroke-width="1.1"/>
<text x="428.40" y="264.50" font-size="7.65" text-anchor="start" font-weight="normal" fill="#111" stroke="#111" stroke-width="0.18">siBRCA1+siSF3B1-5</text>
<rect x="408.90" y="271.40" width="12.30" height="4.60" fill="#fff87a" stroke="#0a0a0a" stroke-width="1.1"/>
<text x="428.40" y="276.40" font-size="7.65" text-anchor="start" font-weight="normal" fill="#111" stroke="#111" stroke-width="0.18">siBRCA1+siSF3B1-7</text>
<text x="1.20" y="364.80" font-size="13.2" text-anchor="start" font-weight="bold" fill="#000" stroke="#000" stroke-width="0.45">E</text>
<line x1="38.12" y1="390.07" x2="38.12" y2="410.45" stroke="#c8c8c8" stroke-width="0.55"/>
<line x1="35.82" y1="390.07" x2="40.42" y2="390.07" stroke="#c8c8c8" stroke-width="0.55"/>
<line x1="35.82" y1="410.45" x2="40.42" y2="410.45" stroke="#c8c8c8" stroke-width="0.55"/>
<line x1="43.14" y1="398.93" x2="43.14" y2="413.11" stroke="#c8c8c8" stroke-width="0.55"/>
<line x1="40.84" y1="398.93" x2="45.44" y2="398.93" stroke="#c8c8c8" stroke-width="0.55"/>
<line x1="40.84" y1="413.11" x2="45.44" y2="413.11" stroke="#c8c8c8" stroke-width="0.55"/>
<line x1="53.19" y1="412.66" x2="53.19" y2="431.71" stroke="#c8c8c8" stroke-width="0.55"/>
<line x1="50.89" y1="412.66" x2="55.49" y2="412.66" stroke="#c8c8c8" stroke-width="0.55"/>
<line x1="50.89" y1="431.71" x2="55.49" y2="431.71" stroke="#c8c8c8" stroke-width="0.55"/>
<line x1="73.28" y1="428.17" x2="73.28" y2="453.86" stroke="#c8c8c8" stroke-width="0.55"/>
<line x1="70.98" y1="428.17" x2="75.58" y2="428.17" stroke="#c8c8c8" stroke-width="0.55"/>
<line x1="70.98" y1="453.86" x2="75.58" y2="453.86" stroke="#c8c8c8" stroke-width="0.55"/>
<line x1="113.45" y1="437.92" x2="113.45" y2="460.07" stroke="#c8c8c8" stroke-width="0.55"/>
<line x1="111.15" y1="437.92" x2="115.75" y2="437.92" stroke="#c8c8c8" stroke-width="0.55"/>
<line x1="111.15" y1="460.07" x2="115.75" y2="460.07" stroke="#c8c8c8" stroke-width="0.55"/>
<line x1="193.80" y1="444.12" x2="193.80" y2="475.13" stroke="#c8c8c8" stroke-width="0.55"/>
<line x1="191.50" y1="444.12" x2="196.10" y2="444.12" stroke="#c8c8c8" stroke-width="0.55"/>
<line x1="191.50" y1="475.13" x2="196.10" y2="475.13" stroke="#c8c8c8" stroke-width="0.55"/>
<line x1="38.12" y1="376.78" x2="38.12" y2="421.97" stroke="#7af07a" stroke-width="0.55"/>
<line x1="35.82" y1="376.78" x2="40.42" y2="376.78" stroke="#7af07a" stroke-width="0.55"/>
<line x1="35.82" y1="421.97" x2="40.42" y2="421.97" stroke="#7af07a" stroke-width="0.55"/>
<line x1="43.14" y1="382.10" x2="43.14" y2="427.28" stroke="#7af07a" stroke-width="0.55"/>
<line x1="40.84" y1="382.10" x2="45.44" y2="382.10" stroke="#7af07a" stroke-width="0.55"/>
<line x1="40.84" y1="427.28" x2="45.44" y2="427.28" stroke="#7af07a" stroke-width="0.55"/>
<line x1="53.19" y1="397.16" x2="53.19" y2="434.37" stroke="#7af07a" stroke-width="0.55"/>
<line x1="50.89" y1="397.16" x2="55.49" y2="397.16" stroke="#7af07a" stroke-width="0.55"/>
<line x1="50.89" y1="434.37" x2="55.49" y2="434.37" stroke="#7af07a" stroke-width="0.55"/>
<line x1="73.28" y1="422.41" x2="73.28" y2="438.80" stroke="#7af07a" stroke-width="0.55"/>
<line x1="70.98" y1="422.41" x2="75.58" y2="422.41" stroke="#7af07a" stroke-width="0.55"/>
<line x1="70.98" y1="438.80" x2="75.58" y2="438.80" stroke="#7af07a" stroke-width="0.55"/>
<line x1="113.45" y1="447.22" x2="113.45" y2="463.61" stroke="#7af07a" stroke-width="0.55"/>
<line x1="111.15" y1="447.22" x2="115.75" y2="447.22" stroke="#7af07a" stroke-width="0.55"/>
<line x1="111.15" y1="463.61" x2="115.75" y2="463.61" stroke="#7af07a" stroke-width="0.55"/>
<line x1="193.80" y1="453.86" x2="193.80" y2="476.90" stroke="#7af07a" stroke-width="0.55"/>
<line x1="191.50" y1="453.86" x2="196.10" y2="453.86" stroke="#7af07a" stroke-width="0.55"/>
<line x1="191.50" y1="476.90" x2="196.10" y2="476.90" stroke="#7af07a" stroke-width="0.55"/>
<line x1="38.12" y1="388.30" x2="38.12" y2="406.02" stroke="#f07060" stroke-width="0.55"/>
<line x1="35.82" y1="388.30" x2="40.42" y2="388.30" stroke="#f07060" stroke-width="0.55"/>
<line x1="35.82" y1="406.02" x2="40.42" y2="406.02" stroke="#f07060" stroke-width="0.55"/>
<line x1="43.14" y1="390.96" x2="43.14" y2="409.56" stroke="#f07060" stroke-width="0.55"/>
<line x1="40.84" y1="390.96" x2="45.44" y2="390.96" stroke="#f07060" stroke-width="0.55"/>
<line x1="40.84" y1="409.56" x2="45.44" y2="409.56" stroke="#f07060" stroke-width="0.55"/>
<line x1="53.19" y1="397.16" x2="53.19" y2="412.22" stroke="#f07060" stroke-width="0.55"/>
<line x1="50.89" y1="397.16" x2="55.49" y2="397.16" stroke="#f07060" stroke-width="0.55"/>
<line x1="50.89" y1="412.22" x2="55.49" y2="412.22" stroke="#f07060" stroke-width="0.55"/>
<line x1="73.28" y1="429.94" x2="73.28" y2="441.46" stroke="#f07060" stroke-width="0.55"/>
<line x1="70.98" y1="429.94" x2="75.58" y2="429.94" stroke="#f07060" stroke-width="0.55"/>
<line x1="70.98" y1="441.46" x2="75.58" y2="441.46" stroke="#f07060" stroke-width="0.55"/>
<line x1="113.45" y1="443.23" x2="113.45" y2="453.86" stroke="#f07060" stroke-width="0.55"/>
<line x1="111.15" y1="443.23" x2="115.75" y2="443.23" stroke="#f07060" stroke-width="0.55"/>
<line x1="111.15" y1="453.86" x2="115.75" y2="453.86" stroke="#f07060" stroke-width="0.55"/>
<line x1="193.80" y1="445.00" x2="193.80" y2="473.36" stroke="#f07060" stroke-width="0.55"/>
<line x1="191.50" y1="445.00" x2="196.10" y2="445.00" stroke="#f07060" stroke-width="0.55"/>
<line x1="191.50" y1="473.36" x2="196.10" y2="473.36" stroke="#f07060" stroke-width="0.55"/>
<line x1="38.12" y1="382.98" x2="38.12" y2="395.39" stroke="#444" stroke-width="0.55"/>
<line x1="35.82" y1="382.98" x2="40.42" y2="382.98" stroke="#444" stroke-width="0.55"/>
<line x1="35.82" y1="395.39" x2="40.42" y2="395.39" stroke="#444" stroke-width="0.55"/>
<line x1="43.14" y1="382.10" x2="43.14" y2="400.70" stroke="#444" stroke-width="0.55"/>
<line x1="40.84" y1="382.10" x2="45.44" y2="382.10" stroke="#444" stroke-width="0.55"/>
<line x1="40.84" y1="400.70" x2="45.44" y2="400.70" stroke="#444" stroke-width="0.55"/>
<line x1="53.19" y1="383.43" x2="53.19" y2="396.72" stroke="#444" stroke-width="0.55"/>
<line x1="50.89" y1="383.43" x2="55.49" y2="383.43" stroke="#444" stroke-width="0.55"/>
<line x1="50.89" y1="396.72" x2="55.49" y2="396.72" stroke="#444" stroke-width="0.55"/>
<line x1="73.28" y1="392.73" x2="73.28" y2="403.81" stroke="#444" stroke-width="0.55"/>
<line x1="70.98" y1="392.73" x2="75.58" y2="392.73" stroke="#444" stroke-width="0.55"/>
<line x1="70.98" y1="403.81" x2="75.58" y2="403.81" stroke="#444" stroke-width="0.55"/>
<line x1="113.45" y1="413.55" x2="113.45" y2="430.38" stroke="#444" stroke-width="0.55"/>
<line x1="111.15" y1="413.55" x2="115.75" y2="413.55" stroke="#444" stroke-width="0.55"/>
<line x1="111.15" y1="430.38" x2="115.75" y2="430.38" stroke="#444" stroke-width="0.55"/>
<line x1="193.80" y1="444.12" x2="193.80" y2="476.90" stroke="#444" stroke-width="0.55"/>
<line x1="191.50" y1="444.12" x2="196.10" y2="444.12" stroke="#444" stroke-width="0.55"/>
<line x1="191.50" y1="476.90" x2="196.10" y2="476.90" stroke="#444" stroke-width="0.55"/>
<path d="M33.10,388.30 C33.94,389.78 36.45,394.35 38.12,397.16 C39.80,399.97 40.63,400.44 43.14,405.13 C45.65,409.83 48.17,419.34 53.19,425.33 C58.21,431.33 63.23,437.09 73.28,441.11 C83.32,445.12 100.06,446.94 113.45,449.43 C126.84,451.93 140.23,454.35 153.62,456.08 C167.02,457.81 187.10,459.18 193.80,459.80" stroke="#c4b4bc" stroke-width="0.8" fill="none"/>
<path d="M33.10,388.30 C33.94,389.41 36.45,392.80 38.12,394.94 C39.80,397.09 40.63,398.06 43.14,401.15 C45.65,404.23 48.17,407.95 53.19,413.46 C58.21,418.97 63.23,427.93 73.28,434.19 C83.32,440.46 100.06,447.04 113.45,451.03 C126.84,455.02 140.23,456.61 153.62,458.12 C167.02,459.62 187.10,459.74 193.80,460.07" stroke="#2cf02c" stroke-width="0.8" fill="none"/>
<path d="M33.10,388.30 C33.94,389.33 36.45,392.51 38.12,394.50 C39.80,396.50 40.63,397.41 43.14,400.26 C45.65,403.11 48.17,406.26 53.19,411.60 C58.21,416.95 63.23,426.27 73.28,432.33 C83.32,438.40 100.06,444.07 113.45,448.02 C126.84,451.96 140.23,454.03 153.62,455.99 C167.02,457.95 187.10,459.17 193.80,459.80" stroke="#f03a20" stroke-width="0.8" fill="none"/>
<path d="M33.10,388.30 C39.80,390.84 59.88,397.96 73.28,403.54 C86.67,409.12 100.06,415.69 113.45,421.79 C126.84,427.89 140.23,433.80 153.62,440.13 C167.02,446.47 187.10,456.52 193.80,459.80" stroke="#222" stroke-width="0.8" fill="none"/>
<rect x="31.35" y="386.55" width="3.50" height="3.50" fill="#b8b8b8" stroke="none" stroke-width="0"/>
<rect x="36.37" y="398.51" width="3.50" height="3.50" fill="#b8b8b8" stroke="none" stroke-width="0"/>
<rect x="41.39" y="404.71" width="3.50" height="3.50" fill="#b8b8b8" stroke="none" stroke-width="0"/>
<rect x="51.44" y="420.22" width="3.50" height="3.50" fill="#b8b8b8" stroke="none" stroke-width="0"/>
<rect x="71.53" y="439.27" width="3.50" height="3.50" fill="#b8b8b8" stroke="none" stroke-width="0"/>
<rect x="111.70" y="447.68" width="3.50" height="3.50" fill="#b8b8b8" stroke="none" stroke-width="0"/>
<rect x="192.05" y="458.32" width="3.50" height="3.50" fill="#b8b8b8" stroke="none" stroke-width="0"/>
<polygon points="33.10,386.20 31.00,389.98 35.20,389.98" fill="#d8201a"/>
<polygon points="38.12,393.73 36.02,397.51 40.22,397.51" fill="#d8201a"/>
<polygon points="43.14,395.95 41.04,399.73 45.24,399.73" fill="#d8201a"/>
<polygon points="53.19,402.59 51.09,406.37 55.29,406.37" fill="#d8201a"/>
<polygon points="73.28,433.60 71.18,437.38 75.38,437.38" fill="#d8201a"/>
<polygon points="113.45,446.00 111.35,449.78 115.55,449.78" fill="#d8201a"/>
<polygon points="193.80,457.97 191.70,461.75 195.90,461.75" fill="#d8201a"/>
<rect x="31.10" y="386.30" width="4.00" height="4.00" fill="none" stroke="#2cf02c" stroke-width="1.1"/>
<rect x="36.12" y="398.70" width="4.00" height="4.00" fill="none" stroke="#2cf02c" stroke-width="1.1"/>
<rect x="41.14" y="402.25" width="4.00" height="4.00" fill="none" stroke="#2cf02c" stroke-width="1.1"/>
<rect x="51.19" y="411.55" width="4.00" height="4.00" fill="none" stroke="#2cf02c" stroke-width="1.1"/>
<rect x="71.28" y="428.21" width="4.00" height="4.00" fill="none" stroke="#2cf02c" stroke-width="1.1"/>
<rect x="111.45" y="453.02" width="4.00" height="4.00" fill="none" stroke="#2cf02c" stroke-width="1.1"/>
<rect x="191.80" y="458.95" width="4.00" height="4.00" fill="none" stroke="#2cf02c" stroke-width="1.1"/>
<circle cx="33.10" cy="388.30" r="1.95" fill="#111" stroke="none" stroke-width="0"/>
<circle cx="38.12" cy="389.45" r="1.95" fill="#111" stroke="none" stroke-width="0"/>
<circle cx="43.14" cy="392.11" r="1.95" fill="#111" stroke="none" stroke-width="0"/>
<circle cx="53.19" cy="390.51" r="1.95" fill="#111" stroke="none" stroke-width="0"/>
<circle cx="73.28" cy="398.49" r="1.95" fill="#111" stroke="none" stroke-width="0"/>
<circle cx="113.45" cy="421.97" r="1.95" fill="#111" stroke="none" stroke-width="0"/>
<circle cx="193.80" cy="461.66" r="1.95" fill="#111" stroke="none" stroke-width="0"/>
<line x1="33.10" y1="370.13" x2="33.10" y2="477.35" stroke="#0c0c0c" stroke-width="1.2"/>
<line x1="32.65" y1="476.90" x2="194.25" y2="476.90" stroke="#0c0c0c" stroke-width="1.2"/>
<line x1="29.20" y1="476.90" x2="33.10" y2="476.90" stroke="#0c0c0c" stroke-width="1.2"/>
<text x="26.80" y="479.80" font-size="8.2" text-anchor="end" font-weight="normal" fill="#111" stroke="#111" stroke-width="0.18">0.0</text>
<line x1="29.20" y1="459.18" x2="33.10" y2="459.18" stroke="#0c0c0c" stroke-width="1.2"/>
<text x="26.80" y="462.08" font-size="8.2" text-anchor="end" font-weight="normal" fill="#111" stroke="#111" stroke-width="0.18">0.2</text>
<line x1="29.20" y1="441.46" x2="33.10" y2="441.46" stroke="#0c0c0c" stroke-width="1.2"/>
<text x="26.80" y="444.36" font-size="8.2" text-anchor="end" font-weight="normal" fill="#111" stroke="#111" stroke-width="0.18">0.4</text>
<line x1="29.20" y1="423.74" x2="33.10" y2="423.74" stroke="#0c0c0c" stroke-width="1.2"/>
<text x="26.80" y="426.64" font-size="8.2" text-anchor="end" font-weight="normal" fill="#111" stroke="#111" stroke-width="0.18">0.6</text>
<line x1="29.20" y1="406.02" x2="33.10" y2="406.02" stroke="#0c0c0c" stroke-width="1.2"/>
<text x="26.80" y="408.92" font-size="8.2" text-anchor="end" font-weight="normal" fill="#111" stroke="#111" stroke-width="0.18">0.8</text>
<line x1="29.20" y1="388.30" x2="33.10" y2="388.30" stroke="#0c0c0c" stroke-width="1.2"/>
<text x="26.80" y="391.20" font-size="8.2" text-anchor="end" font-weight="normal" fill="#111" stroke="#111" stroke-width="0.18">1.0</text>
<line x1="29.20" y1="370.58" x2="33.10" y2="370.58" stroke="#0c0c0c" stroke-width="1.2"/>
<text x="26.80" y="373.48" font-size="8.2" text-anchor="end" font-weight="normal" fill="#111" stroke="#111" stroke-width="0.18">1.2</text>
<line x1="33.10" y1="476.90" x2="33.10" y2="480.90" stroke="#0c0c0c" stroke-width="1.2"/>
<text x="33.10" y="490.20" font-size="8.1" text-anchor="middle" font-weight="normal" fill="#111" stroke="#111" stroke-width="0.18">0.00</text>
<line x1="73.28" y1="476.90" x2="73.28" y2="480.90" stroke="#0c0c0c" stroke-width="1.2"/>
<text x="73.28" y="490.20" font-size="8.1" text-anchor="middle" font-weight="normal" fill="#111" stroke="#111" stroke-width="0.18">0.25</text>
<line x1="113.45" y1="476.90" x2="113.45" y2="480.90" stroke="#0c0c0c" stroke-width="1.2"/>
<text x="113.45" y="490.20" font-size="8.1" text-anchor="middle" font-weight="normal" fill="#111" stroke="#111" stroke-width="0.18">0.50</text>
<line x1="153.62" y1="476.90" x2="153.62" y2="480.90" stroke="#0c0c0c" stroke-width="1.2"/>
<text x="153.62" y="490.20" font-size="8.1" text-anchor="middle" font-weight="normal" fill="#111" stroke="#111" stroke-width="0.18">0.75</text>
<line x1="193.80" y1="476.90" x2="193.80" y2="480.90" stroke="#0c0c0c" stroke-width="1.2"/>
<text x="193.80" y="490.20" font-size="8.1" text-anchor="middle" font-weight="normal" fill="#111" stroke="#111" stroke-width="0.18">1.00</text>
<text x="114.70" y="502.00" font-size="8.6" text-anchor="middle" font-weight="normal" fill="#111" stroke="#111" stroke-width="0.18">Etoposide (μmol/L)</text>
<text x="8.40" y="423.50" font-size="8.46" text-anchor="middle" font-weight="normal" fill="#111" stroke="#111" stroke-width="0.18" transform="rotate(-90 8.4 423.5)">Surviving fraction</text>
<line x1="128.70" y1="373.50" x2="139.90" y2="373.50" stroke="#111" stroke-width="0.9"/>
<circle cx="134.30" cy="373.50" r="1.9" fill="#111" stroke="none" stroke-width="0"/>
<line x1="128.70" y1="385.70" x2="139.90" y2="385.70" stroke="#f03a20" stroke-width="0.8"/>
<polygon points="134.30,383.60 132.20,387.38 136.40,387.38" fill="#d8201a"/>
<line x1="128.70" y1="397.90" x2="139.90" y2="397.90" stroke="#ccc" stroke-width="0.8"/>
<rect x="132.55" y="396.15" width="3.50" height="3.50" fill="#b8b8b8" stroke="none" stroke-width="0"/>
<line x1="128.70" y1="411.20" x2="139.90" y2="411.20" stroke="#2cf02c" stroke-width="0.8"/>
<rect x="132.30" y="409.20" width="4.00" height="4.00" fill="#fff" stroke="#2cf02c" stroke-width="1.1"/>
<text x="146.50" y="376.10" font-size="7.2" text-anchor="start" font-weight="normal" fill="#111" stroke="#111" stroke-width="0.18">siSCR</text>
<text x="146.50" y="388.30" font-size="7.2" text-anchor="start" font-weight="normal" fill="#111" stroke="#111" stroke-width="0.18">siSF3B1_5</text>
<text x="146.50" y="400.50" font-size="7.2" text-anchor="start" font-weight="normal" fill="#111" stroke="#111" stroke-width="0.18">siBRCA1</text>
<text x="146.50" y="413.80" font-size="7.2" text-anchor="start" font-weight="normal" fill="#111" stroke="#111" stroke-width="0.18">siSF3B1_5+</text>
<text x="146.50" y="421.80" font-size="7.2" text-anchor="start" font-weight="normal" fill="#111" stroke="#111" stroke-width="0.18">siBRCA1</text>
<polyline points="183.70,374.50 187.50,374.50 187.50,399.50 183.70,399.50" stroke="#4a4a4a" stroke-width="0.75" fill="none"/>
<text x="188.80" y="383.60" font-size="6.6" text-anchor="start" font-weight="bold" fill="#222" stroke="#222" stroke-width="0.18">***</text>
<polyline points="182.60,387.00 191.00,387.00 191.00,412.20 187.00,412.20" stroke="#4a4a4a" stroke-width="0.75" fill="none"/>
<text x="191.40" y="394.20" font-size="4.1" text-anchor="start" font-weight="normal" fill="#222" stroke="#222" stroke-width="0.18">NS</text>
<polyline points="196.70,374.50 200.80,374.50 200.80,411.60 196.70,411.60" stroke="#4a4a4a" stroke-width="0.75" fill="none"/>
<line x1="195.60" y1="399.50" x2="200.80" y2="399.50" stroke="#4a4a4a" stroke-width="0.75"/>
<text x="202.00" y="390.40" font-size="6.6" text-anchor="start" font-weight="bold" fill="#222" stroke="#222" stroke-width="0.18">**</text>
<text x="202.70" y="406.80" font-size="4.1" text-anchor="start" font-weight="normal" fill="#222" stroke="#222" stroke-width="0.18">NS</text>
<text x="192.90" y="407.20" font-size="4.1" text-anchor="start" font-weight="normal" fill="#222" stroke="#222" stroke-width="0.18">NS</text>
<text x="225.20" y="365.00" font-size="13.2" text-anchor="start" font-weight="bold" fill="#000" stroke="#000" stroke-width="0.45">F</text>
<line x1="263.37" y1="394.89" x2="263.37" y2="408.06" stroke="#c8c8c8" stroke-width="0.55"/>
<line x1="261.07" y1="394.89" x2="265.67" y2="394.89" stroke="#c8c8c8" stroke-width="0.55"/>
<line x1="261.07" y1="408.06" x2="265.67" y2="408.06" stroke="#c8c8c8" stroke-width="0.55"/>
<line x1="265.84" y1="399.28" x2="265.84" y2="411.57" stroke="#c8c8c8" stroke-width="0.55"/>
<line x1="263.54" y1="399.28" x2="268.14" y2="399.28" stroke="#c8c8c8" stroke-width="0.55"/>
<line x1="263.54" y1="411.57" x2="268.14" y2="411.57" stroke="#c8c8c8" stroke-width="0.55"/>
<line x1="270.77" y1="404.55" x2="270.77" y2="416.84" stroke="#c8c8c8" stroke-width="0.55"/>
<line x1="268.47" y1="404.55" x2="273.07" y2="404.55" stroke="#c8c8c8" stroke-width="0.55"/>
<line x1="268.47" y1="416.84" x2="273.07" y2="416.84" stroke="#c8c8c8" stroke-width="0.55"/>
<line x1="280.65" y1="401.91" x2="280.65" y2="423.86" stroke="#c8c8c8" stroke-width="0.55"/>
<line x1="278.35" y1="401.91" x2="282.95" y2="401.91" stroke="#c8c8c8" stroke-width="0.55"/>
<line x1="278.35" y1="423.86" x2="282.95" y2="423.86" stroke="#c8c8c8" stroke-width="0.55"/>
<line x1="300.40" y1="419.47" x2="300.40" y2="434.40" stroke="#c8c8c8" stroke-width="0.55"/>
<line x1="298.10" y1="419.47" x2="302.70" y2="419.47" stroke="#c8c8c8" stroke-width="0.55"/>
<line x1="298.10" y1="434.40" x2="302.70" y2="434.40" stroke="#c8c8c8" stroke-width="0.55"/>
<line x1="339.90" y1="429.13" x2="339.90" y2="451.96" stroke="#c8c8c8" stroke-width="0.55"/>
<line x1="337.60" y1="429.13" x2="342.20" y2="429.13" stroke="#c8c8c8" stroke-width="0.55"/>
<line x1="337.60" y1="451.96" x2="342.20" y2="451.96" stroke="#c8c8c8" stroke-width="0.55"/>
<line x1="418.90" y1="440.55" x2="418.90" y2="463.37" stroke="#c8c8c8" stroke-width="0.55"/>
<line x1="416.60" y1="440.55" x2="421.20" y2="440.55" stroke="#c8c8c8" stroke-width="0.55"/>
<line x1="416.60" y1="463.37" x2="421.20" y2="463.37" stroke="#c8c8c8" stroke-width="0.55"/>
<line x1="263.37" y1="386.11" x2="263.37" y2="404.55" stroke="#7af07a" stroke-width="0.55"/>
<line x1="261.07" y1="386.11" x2="265.67" y2="386.11" stroke="#7af07a" stroke-width="0.55"/>
<line x1="261.07" y1="404.55" x2="265.67" y2="404.55" stroke="#7af07a" stroke-width="0.55"/>
<line x1="265.84" y1="391.38" x2="265.84" y2="416.84" stroke="#7af07a" stroke-width="0.55"/>
<line x1="263.54" y1="391.38" x2="268.14" y2="391.38" stroke="#7af07a" stroke-width="0.55"/>
<line x1="263.54" y1="416.84" x2="268.14" y2="416.84" stroke="#7af07a" stroke-width="0.55"/>
<line x1="270.77" y1="397.52" x2="270.77" y2="407.18" stroke="#7af07a" stroke-width="0.55"/>
<line x1="268.47" y1="397.52" x2="273.07" y2="397.52" stroke="#7af07a" stroke-width="0.55"/>
<line x1="268.47" y1="407.18" x2="273.07" y2="407.18" stroke="#7af07a" stroke-width="0.55"/>
<line x1="280.65" y1="386.55" x2="280.65" y2="429.13" stroke="#7af07a" stroke-width="0.55"/>
<line x1="278.35" y1="386.55" x2="282.95" y2="386.55" stroke="#7af07a" stroke-width="0.55"/>
<line x1="278.35" y1="429.13" x2="282.95" y2="429.13" stroke="#7af07a" stroke-width="0.55"/>
<line x1="300.40" y1="409.82" x2="300.40" y2="419.47" stroke="#7af07a" stroke-width="0.55"/>
<line x1="298.10" y1="409.82" x2="302.70" y2="409.82" stroke="#7af07a" stroke-width="0.55"/>
<line x1="298.10" y1="419.47" x2="302.70" y2="419.47" stroke="#7af07a" stroke-width="0.55"/>
<line x1="339.90" y1="425.62" x2="339.90" y2="441.42" stroke="#7af07a" stroke-width="0.55"/>
<line x1="337.60" y1="425.62" x2="342.20" y2="425.62" stroke="#7af07a" stroke-width="0.55"/>
<line x1="337.60" y1="441.42" x2="342.20" y2="441.42" stroke="#7af07a" stroke-width="0.55"/>
<line x1="418.90" y1="424.30" x2="418.90" y2="467.76" stroke="#7af07a" stroke-width="0.55"/>
<line x1="416.60" y1="424.30" x2="421.20" y2="424.30" stroke="#7af07a" stroke-width="0.55"/>
<line x1="416.60" y1="467.76" x2="421.20" y2="467.76" stroke="#7af07a" stroke-width="0.55"/>
<line x1="263.37" y1="381.72" x2="263.37" y2="403.67" stroke="#f07060" stroke-width="0.55"/>
<line x1="261.07" y1="381.72" x2="265.67" y2="381.72" stroke="#f07060" stroke-width="0.55"/>
<line x1="261.07" y1="403.67" x2="265.67" y2="403.67" stroke="#f07060" stroke-width="0.55"/>
<line x1="265.84" y1="380.40" x2="265.84" y2="424.30" stroke="#f07060" stroke-width="0.55"/>
<line x1="263.54" y1="380.40" x2="268.14" y2="380.40" stroke="#f07060" stroke-width="0.55"/>
<line x1="263.54" y1="424.30" x2="268.14" y2="424.30" stroke="#f07060" stroke-width="0.55"/>
<line x1="270.77" y1="394.89" x2="270.77" y2="419.47" stroke="#f07060" stroke-width="0.55"/>
<line x1="268.47" y1="394.89" x2="273.07" y2="394.89" stroke="#f07060" stroke-width="0.55"/>
<line x1="268.47" y1="419.47" x2="273.07" y2="419.47" stroke="#f07060" stroke-width="0.55"/>
<line x1="280.65" y1="396.65" x2="280.65" y2="415.08" stroke="#f07060" stroke-width="0.55"/>
<line x1="278.35" y1="396.65" x2="282.95" y2="396.65" stroke="#f07060" stroke-width="0.55"/>
<line x1="278.35" y1="415.08" x2="282.95" y2="415.08" stroke="#f07060" stroke-width="0.55"/>
<line x1="300.40" y1="408.50" x2="300.40" y2="419.91" stroke="#f07060" stroke-width="0.55"/>
<line x1="298.10" y1="408.50" x2="302.70" y2="408.50" stroke="#f07060" stroke-width="0.55"/>
<line x1="298.10" y1="419.91" x2="302.70" y2="419.91" stroke="#f07060" stroke-width="0.55"/>
<line x1="339.90" y1="419.04" x2="339.90" y2="441.42" stroke="#f07060" stroke-width="0.55"/>
<line x1="337.60" y1="419.04" x2="342.20" y2="419.04" stroke="#f07060" stroke-width="0.55"/>
<line x1="337.60" y1="441.42" x2="342.20" y2="441.42" stroke="#f07060" stroke-width="0.55"/>
<line x1="418.90" y1="437.91" x2="418.90" y2="463.37" stroke="#f07060" stroke-width="0.55"/>
<line x1="416.60" y1="437.91" x2="421.20" y2="437.91" stroke="#f07060" stroke-width="0.55"/>
<line x1="416.60" y1="463.37" x2="421.20" y2="463.37" stroke="#f07060" stroke-width="0.55"/>
<line x1="263.37" y1="385.23" x2="263.37" y2="394.89" stroke="#444" stroke-width="0.55"/>
<line x1="261.07" y1="385.23" x2="265.67" y2="385.23" stroke="#444" stroke-width="0.55"/>
<line x1="261.07" y1="394.89" x2="265.67" y2="394.89" stroke="#444" stroke-width="0.55"/>
<line x1="265.84" y1="384.35" x2="265.84" y2="399.28" stroke="#444" stroke-width="0.55"/>
<line x1="263.54" y1="384.35" x2="268.14" y2="384.35" stroke="#444" stroke-width="0.55"/>
<line x1="263.54" y1="399.28" x2="268.14" y2="399.28" stroke="#444" stroke-width="0.55"/>
<line x1="270.77" y1="386.99" x2="270.77" y2="393.13" stroke="#444" stroke-width="0.55"/>
<line x1="268.47" y1="386.99" x2="273.07" y2="386.99" stroke="#444" stroke-width="0.55"/>
<line x1="268.47" y1="393.13" x2="273.07" y2="393.13" stroke="#444" stroke-width="0.55"/>
<line x1="280.65" y1="386.11" x2="280.65" y2="393.13" stroke="#444" stroke-width="0.55"/>
<line x1="278.35" y1="386.11" x2="282.95" y2="386.11" stroke="#444" stroke-width="0.55"/>
<line x1="278.35" y1="393.13" x2="282.95" y2="393.13" stroke="#444" stroke-width="0.55"/>
<line x1="300.40" y1="380.40" x2="300.40" y2="391.38" stroke="#444" stroke-width="0.55"/>
<line x1="298.10" y1="380.40" x2="302.70" y2="380.40" stroke="#444" stroke-width="0.55"/>
<line x1="298.10" y1="391.38" x2="302.70" y2="391.38" stroke="#444" stroke-width="0.55"/>
<line x1="339.90" y1="386.55" x2="339.90" y2="394.01" stroke="#444" stroke-width="0.55"/>
<line x1="337.60" y1="386.55" x2="342.20" y2="386.55" stroke="#444" stroke-width="0.55"/>
<line x1="337.60" y1="394.01" x2="342.20" y2="394.01" stroke="#444" stroke-width="0.55"/>
<line x1="418.90" y1="392.26" x2="418.90" y2="397.09" stroke="#444" stroke-width="0.55"/>
<line x1="416.60" y1="392.26" x2="421.20" y2="392.26" stroke="#444" stroke-width="0.55"/>
<line x1="416.60" y1="397.09" x2="421.20" y2="397.09" stroke="#444" stroke-width="0.55"/>
<polyline points="260.90,394.63 262.48,396.74 264.06,398.73 265.64,400.62 267.22,402.41 268.80,404.11 270.38,405.73 271.96,407.27 273.54,408.75 275.12,410.16 276.70,411.51 278.28,412.81 279.86,414.05 281.44,415.24 283.02,416.39 284.60,417.50 286.18,418.57 287.76,419.59 289.34,420.59 290.92,421.55 292.50,422.47 294.08,423.37 295.66,424.24 297.24,425.08 298.82,425.89 300.40,426.68 301.98,427.45 303.56,428.19 305.14,428.91 306.72,429.61 308.30,430.29 309.88,430.95 311.46,431.59 313.04,432.21 314.62,432.82 316.20,433.40 317.78,433.97 319.36,434.53 320.94,435.07 322.52,435.60 324.10,436.11 325.68,436.61 327.26,437.09 328.84,437.56 330.42,438.02 332.00,438.47 333.58,438.90 335.16,439.32 336.74,439.73 338.32,440.13 339.90,440.52 341.48,440.90 343.06,441.27 344.64,441.63 346.22,441.98 347.80,442.32 349.38,442.65 350.96,442.98 352.54,443.29 354.12,443.60 355.70,443.90 357.28,444.19 358.86,444.47 360.44,444.75 362.02,445.01 363.60,445.28 365.18,445.53 366.76,445.78 368.34,446.02 369.92,446.25 371.50,446.48 373.08,446.71 374.66,446.92 376.24,447.13 377.82,447.34 379.40,447.54 380.98,447.74 382.56,447.93 384.14,448.11 385.72,448.29 387.30,448.47 388.88,448.64 390.46,448.81 392.04,448.97 393.62,449.13 395.20,449.28 396.78,449.43 398.36,449.58 399.94,449.72 401.52,449.86 403.10,449.99 404.68,450.12 406.26,450.25 407.84,450.37 409.42,450.50 411.00,450.61 412.58,450.73 414.16,450.84 415.74,450.95 417.32,451.06 418.90,451.16" stroke="#c4b8bc" stroke-width="0.8" fill="none"/>
<path d="M260.90,393.13 C261.72,394.38 264.19,398.77 265.84,400.60 C267.48,402.43 268.31,402.79 270.77,404.11 C273.24,405.43 275.71,406.52 280.65,408.50 C285.59,410.47 293.82,413.43 300.40,415.96 C306.98,418.49 313.57,421.36 320.15,423.69 C326.73,426.02 330.02,427.20 339.90,429.92 C349.77,432.64 366.23,437.31 379.40,440.02 C392.57,442.73 412.32,445.14 418.90,446.17" stroke="#2cf02c" stroke-width="0.8" fill="none"/>
<path d="M260.90,393.13 C261.72,394.30 264.19,398.45 265.84,400.16 C267.48,401.87 268.31,402.19 270.77,403.41 C273.24,404.62 275.71,405.60 280.65,407.45 C285.59,409.29 293.82,412.14 300.40,414.47 C306.98,416.80 313.57,418.95 320.15,421.41 C326.73,423.86 330.02,426.03 339.90,429.22 C349.77,432.41 366.23,437.00 379.40,440.55 C392.57,444.09 412.32,448.81 418.90,450.47" stroke="#f03a20" stroke-width="0.8" fill="none"/>
<line x1="260.90" y1="391.11" x2="418.90" y2="393.66" stroke="#222" stroke-width="0.8"/>
<rect x="259.15" y="388.75" width="3.50" height="3.50" fill="#b8b8b8" stroke="none" stroke-width="0"/>
<rect x="261.62" y="399.29" width="3.50" height="3.50" fill="#b8b8b8" stroke="none" stroke-width="0"/>
<rect x="264.09" y="403.24" width="3.50" height="3.50" fill="#b8b8b8" stroke="none" stroke-width="0"/>
<rect x="269.02" y="408.50" width="3.50" height="3.50" fill="#b8b8b8" stroke="none" stroke-width="0"/>
<rect x="278.90" y="411.14" width="3.50" height="3.50" fill="#b8b8b8" stroke="none" stroke-width="0"/>
<rect x="298.65" y="425.19" width="3.50" height="3.50" fill="#b8b8b8" stroke="none" stroke-width="0"/>
<rect x="338.15" y="438.36" width="3.50" height="3.50" fill="#b8b8b8" stroke="none" stroke-width="0"/>
<rect x="417.15" y="450.21" width="3.50" height="3.50" fill="#b8b8b8" stroke="none" stroke-width="0"/>
<polygon points="260.90,388.40 258.80,392.18 263.00,392.18" fill="#d8201a"/>
<polygon points="263.37,391.03 261.27,394.81 265.47,394.81" fill="#d8201a"/>
<polygon points="265.84,394.55 263.74,398.33 267.94,398.33" fill="#d8201a"/>
<polygon points="270.77,402.89 268.67,406.67 272.88,406.67" fill="#d8201a"/>
<polygon points="280.65,404.20 278.55,407.98 282.75,407.98" fill="#d8201a"/>
<polygon points="300.40,412.11 298.30,415.89 302.50,415.89" fill="#d8201a"/>
<polygon points="339.90,428.35 337.80,432.13 342.00,432.13" fill="#d8201a"/>
<polygon points="418.90,449.86 416.80,453.64 421.00,453.64" fill="#d8201a"/>
<rect x="258.90" y="388.50" width="4.00" height="4.00" fill="none" stroke="#2cf02c" stroke-width="1.1"/>
<rect x="261.37" y="392.89" width="4.00" height="4.00" fill="none" stroke="#2cf02c" stroke-width="1.1"/>
<rect x="263.84" y="399.48" width="4.00" height="4.00" fill="none" stroke="#2cf02c" stroke-width="1.1"/>
<rect x="268.77" y="400.35" width="4.00" height="4.00" fill="none" stroke="#2cf02c" stroke-width="1.1"/>
<rect x="278.65" y="406.50" width="4.00" height="4.00" fill="none" stroke="#2cf02c" stroke-width="1.1"/>
<rect x="298.40" y="412.65" width="4.00" height="4.00" fill="none" stroke="#2cf02c" stroke-width="1.1"/>
<rect x="337.90" y="431.26" width="4.00" height="4.00" fill="none" stroke="#2cf02c" stroke-width="1.1"/>
<rect x="416.90" y="443.81" width="4.00" height="4.00" fill="none" stroke="#2cf02c" stroke-width="1.1"/>
<circle cx="260.90" cy="390.50" r="1.95" fill="#111" stroke="none" stroke-width="0"/>
<circle cx="263.37" cy="389.18" r="1.95" fill="#111" stroke="none" stroke-width="0"/>
<circle cx="265.84" cy="393.13" r="1.95" fill="#111" stroke="none" stroke-width="0"/>
<circle cx="270.77" cy="390.50" r="1.95" fill="#111" stroke="none" stroke-width="0"/>
<circle cx="280.65" cy="390.50" r="1.95" fill="#111" stroke="none" stroke-width="0"/>
<circle cx="300.40" cy="386.11" r="1.95" fill="#111" stroke="none" stroke-width="0"/>
<circle cx="339.90" cy="390.50" r="1.95" fill="#111" stroke="none" stroke-width="0"/>
<circle cx="418.90" cy="394.89" r="1.95" fill="#111" stroke="none" stroke-width="0"/>
<circle cx="261.70" cy="394.70" r="1.95" fill="#111" stroke="none" stroke-width="0"/>
<line x1="260.90" y1="372.49" x2="260.90" y2="478.75" stroke="#0c0c0c" stroke-width="1.2"/>
<line x1="260.45" y1="478.30" x2="419.35" y2="478.30" stroke="#0c0c0c" stroke-width="1.2"/>
<line x1="257.00" y1="478.30" x2="260.90" y2="478.30" stroke="#0c0c0c" stroke-width="1.2"/>
<text x="254.60" y="481.20" font-size="8.2" text-anchor="end" font-weight="normal" fill="#111" stroke="#111" stroke-width="0.18">0.0</text>
<line x1="257.00" y1="460.74" x2="260.90" y2="460.74" stroke="#0c0c0c" stroke-width="1.2"/>
<text x="254.60" y="463.64" font-size="8.2" text-anchor="end" font-weight="normal" fill="#111" stroke="#111" stroke-width="0.18">0.2</text>
<line x1="257.00" y1="443.18" x2="260.90" y2="443.18" stroke="#0c0c0c" stroke-width="1.2"/>
<text x="254.60" y="446.08" font-size="8.2" text-anchor="end" font-weight="normal" fill="#111" stroke="#111" stroke-width="0.18">0.4</text>
<line x1="257.00" y1="425.62" x2="260.90" y2="425.62" stroke="#0c0c0c" stroke-width="1.2"/>
<text x="254.60" y="428.52" font-size="8.2" text-anchor="end" font-weight="normal" fill="#111" stroke="#111" stroke-width="0.18">0.6</text>
<line x1="257.00" y1="408.06" x2="260.90" y2="408.06" stroke="#0c0c0c" stroke-width="1.2"/>
<text x="254.60" y="410.96" font-size="8.2" text-anchor="end" font-weight="normal" fill="#111" stroke="#111" stroke-width="0.18">0.8</text>
<line x1="257.00" y1="390.50" x2="260.90" y2="390.50" stroke="#0c0c0c" stroke-width="1.2"/>
<text x="254.60" y="393.40" font-size="8.2" text-anchor="end" font-weight="normal" fill="#111" stroke="#111" stroke-width="0.18">1.0</text>
<line x1="257.00" y1="372.94" x2="260.90" y2="372.94" stroke="#0c0c0c" stroke-width="1.2"/>
<text x="254.60" y="375.84" font-size="8.2" text-anchor="end" font-weight="normal" fill="#111" stroke="#111" stroke-width="0.18">1.2</text>
<line x1="260.90" y1="478.30" x2="260.90" y2="482.30" stroke="#0c0c0c" stroke-width="1.2"/>
<text x="260.90" y="492.00" font-size="8.1" text-anchor="middle" font-weight="normal" fill="#111" stroke="#111" stroke-width="0.18">0.0</text>
<line x1="300.40" y1="478.30" x2="300.40" y2="482.30" stroke="#0c0c0c" stroke-width="1.2"/>
<text x="300.40" y="492.00" font-size="8.1" text-anchor="middle" font-weight="normal" fill="#111" stroke="#111" stroke-width="0.18">0.5</text>
<line x1="339.90" y1="478.30" x2="339.90" y2="482.30" stroke="#0c0c0c" stroke-width="1.2"/>
<text x="339.90" y="492.00" font-size="8.1" text-anchor="middle" font-weight="normal" fill="#111" stroke="#111" stroke-width="0.18">1.0</text>
<line x1="379.40" y1="478.30" x2="379.40" y2="482.30" stroke="#0c0c0c" stroke-width="1.2"/>
<text x="379.40" y="492.00" font-size="8.1" text-anchor="middle" font-weight="normal" fill="#111" stroke="#111" stroke-width="0.18">1.5</text>
<line x1="418.90" y1="478.30" x2="418.90" y2="482.30" stroke="#0c0c0c" stroke-width="1.2"/>
<text x="418.90" y="492.00" font-size="8.1" text-anchor="middle" font-weight="normal" fill="#111" stroke="#111" stroke-width="0.18">2.0</text>
<text x="341.30" y="504.20" font-size="8.45" text-anchor="middle" font-weight="normal" fill="#111" stroke="#111" stroke-width="0.18">Olaparib (μmol/L)</text>
<text x="235.70" y="423.40" font-size="8.46" text-anchor="middle" font-weight="normal" fill="#111" stroke="#111" stroke-width="0.18" transform="rotate(-90 235.7 423.4)">Surviving fraction</text>
<line x1="436.30" y1="378.80" x2="447.90" y2="378.80" stroke="#111" stroke-width="0.9"/>
<circle cx="442.10" cy="378.80" r="1.9" fill="#111" stroke="none" stroke-width="0"/>
<line x1="436.30" y1="389.70" x2="447.90" y2="389.70" stroke="#ccc" stroke-width="0.8"/>
<rect x="440.35" y="387.95" width="3.50" height="3.50" fill="#b8b8b8" stroke="none" stroke-width="0"/>
<line x1="436.30" y1="402.50" x2="447.90" y2="402.50" stroke="#f03a20" stroke-width="0.8"/>
<polygon points="442.10,400.40 440.00,404.18 444.20,404.18" fill="#d8201a"/>
<line x1="436.30" y1="415.00" x2="447.90" y2="415.00" stroke="#2cf02c" stroke-width="0.8"/>
<rect x="440.10" y="413.00" width="4.00" height="4.00" fill="#fff" stroke="#2cf02c" stroke-width="1.1"/>
<text x="454.20" y="381.40" font-size="7.1" text-anchor="start" font-weight="normal" fill="#111" stroke="#111" stroke-width="0.18">siSCR</text>
<text x="454.20" y="392.30" font-size="7.1" text-anchor="start" font-weight="normal" fill="#111" stroke="#111" stroke-width="0.18">siBRCA1</text>
<text x="454.20" y="405.10" font-size="7.1" text-anchor="start" font-weight="normal" fill="#111" stroke="#111" stroke-width="0.18">siSF3B1_5</text>
<text x="454.20" y="417.60" font-size="7.1" text-anchor="start" font-weight="normal" fill="#111" stroke="#111" stroke-width="0.18">siSF3B1_5 +</text>
<text x="454.20" y="425.80" font-size="7.1" text-anchor="start" font-weight="normal" fill="#111" stroke="#111" stroke-width="0.18">siBRCA1</text>
<polyline points="490.80,376.70 494.60,376.70 494.60,401.60 490.80,401.60" stroke="#4a4a4a" stroke-width="0.75" fill="none"/>
<line x1="490.80" y1="389.40" x2="494.60" y2="389.40" stroke="#4a4a4a" stroke-width="0.75"/>
<text x="496.00" y="387.20" font-size="6.6" text-anchor="start" font-weight="bold" fill="#222" stroke="#222" stroke-width="0.18">****</text>
<polyline points="497.90,389.40 502.80,389.40 502.80,414.10 497.90,414.10" stroke="#4a4a4a" stroke-width="0.75" fill="none"/>
<text x="497.60" y="398.60" font-size="6.6" text-anchor="start" font-weight="bold" fill="#222" stroke="#222" stroke-width="0.18">*</text>
<polyline points="505.00,376.70 508.70,376.70 508.70,401.60 504.40,401.60" stroke="#4a4a4a" stroke-width="0.75" fill="none"/>
<text x="509.60" y="392.20" font-size="6.6" text-anchor="start" font-weight="bold" fill="#222" stroke="#222" stroke-width="0.18">***</text>
<polyline points="504.40,401.60 512.30,401.60 512.30,414.10 509.30,414.10" stroke="#4a4a4a" stroke-width="0.75" fill="none"/>
<line x1="504.40" y1="401.60" x2="504.40" y2="404.00" stroke="#4a4a4a" stroke-width="0.75"/>
<text x="504.00" y="409.60" font-size="4.1" text-anchor="start" font-weight="normal" fill="#222" stroke="#222" stroke-width="0.18">NS</text>
<text x="513.60" y="409.60" font-size="4.1" text-anchor="start" font-weight="normal" fill="#222" stroke="#222" stroke-width="0.18">NS</text>
</svg>
</body></html>
